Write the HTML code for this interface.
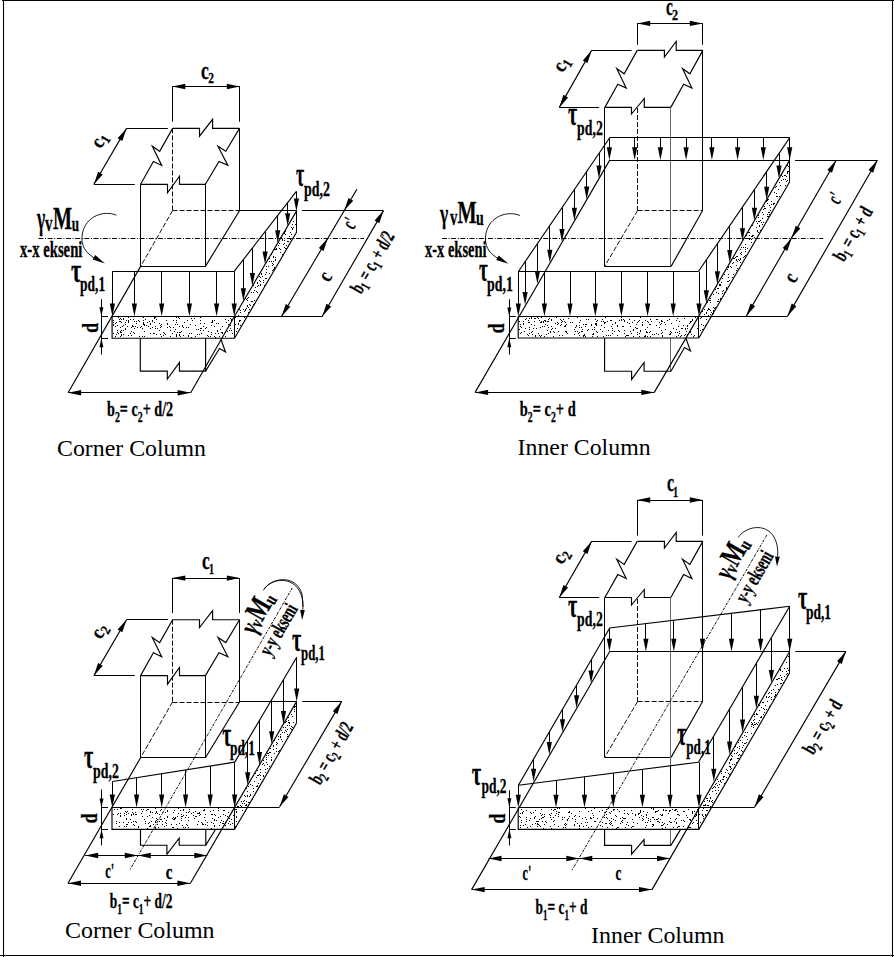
<!DOCTYPE html>
<html><head><meta charset="utf-8"><style>
html,body{margin:0;padding:0;background:#fff;width:894px;height:957px;overflow:hidden}
svg{display:block}
line,polyline{stroke:#000;stroke-width:1.15;fill:none}
.d{stroke-dasharray:5 2;stroke-width:0.95}
.dd{stroke-dasharray:5 1.6 1 1.6;stroke-width:1}
.dy{stroke-dasharray:2.6 1.1 0.8 1.1;stroke-width:1}
.t{stroke:#666;stroke-width:1}
.f{fill:#000;stroke:none}
.h{stroke-width:1.05}
text{font-family:"Liberation Serif",serif;fill:#000}
text[font-weight=bold]{stroke:#000;stroke-width:0.3}
</style></head><body>
<svg width="894" height="957" viewBox="0 0 894 957">
<line x1="2" y1="0.5" x2="894" y2="0.5" class="h"/>
<line x1="3.5" y1="0" x2="3.5" y2="957" class="h"/>
<line x1="892.5" y1="0" x2="892.5" y2="957" class="h"/>
<line x1="0" y1="955.5" x2="894" y2="955.5" class="h"/>
<line x1="172.5" y1="86.5" x2="172.5" y2="121.7" class="h"/>
<line x1="239.5" y1="86.5" x2="239.5" y2="121.7" class="h"/>
<line x1="172.3" y1="86.5" x2="239.8" y2="86.5" class="h"/>
<path class="f" d="M172.3 86.5L185.3 83.8L185.3 89.2Z"/>
<path class="f" d="M239.8 86.5L226.8 89.2L226.8 83.8Z"/>
<line x1="126.5" y1="128.5" x2="167.8" y2="128.5" class="h"/>
<line x1="126.5" y1="128.4" x2="93.9" y2="184.3"/>
<path class="f" d="M126.5 128.4L122.3 141L117.6 138.3Z"/>
<path class="f" d="M93.9 184.3L98.1 171.7L102.8 174.4Z"/>
<line x1="93.9" y1="184.5" x2="134.8" y2="184.5" class="h"/>
<polyline points="172.6,128.4 199.5,128.4 199.5,136.2 212.6,119.3 212.6,128.4 239.5,128.4"/>
<polyline points="172.6,128.4 159.7,151.3 152.3,146.2 161.7,165.4 153.4,161.5 140.6,184.3"/>
<polyline points="239.5,128.4 225.8,151.3 217.9,146.2 227.9,165.4 219,161.5 205.4,184.3"/>
<polyline points="140.6,184.3 167.5,184.3 167.5,192.8 179.5,176.2 179.5,184.3 205.5,184.3"/>
<line x1="140.5" y1="184.3" x2="140.5" y2="266.4" class="h"/>
<line x1="205.5" y1="184.3" x2="205.5" y2="266.4" class="h"/>
<line x1="239.5" y1="128.4" x2="239.5" y2="210.7" class="h"/>
<line x1="172.5" y1="128.4" x2="172.5" y2="210.7" class="d"/>
<line x1="140.6" y1="266.5" x2="205.4" y2="266.5" class="h"/>
<line x1="172.5" y1="210.5" x2="239.5" y2="210.5" class="d"/>
<line x1="239.5" y1="210.7" x2="205.4" y2="266.4"/>
<line x1="172.5" y1="210.7" x2="140.6" y2="266.4" class="d"/>
<line x1="68.1" y1="392.8" x2="140.6" y2="266.4"/>
<line x1="239.5" y1="210.5" x2="296.4" y2="210.5" class="h"/>
<line x1="302" y1="210.5" x2="383.5" y2="210.5" class="h"/>
<line x1="112.4" y1="271.5" x2="234.2" y2="271.5" class="h"/>
<line x1="234.2" y1="271.4" x2="296.4" y2="191.4"/>
<line x1="112.5" y1="271.4" x2="112.5" y2="310.3" class="h"/>
<path class="f" d="M112.4 316.3L109.8 303.5L115 303.5Z"/>
<line x1="134.5" y1="271.4" x2="134.5" y2="310.3" class="h"/>
<path class="f" d="M134.4 316.3L131.8 303.5L137 303.5Z"/>
<line x1="161.5" y1="271.4" x2="161.5" y2="310.3" class="h"/>
<path class="f" d="M161.7 316.3L159.1 303.5L164.3 303.5Z"/>
<line x1="189.5" y1="271.4" x2="189.5" y2="310.3" class="h"/>
<path class="f" d="M189.4 316.3L186.8 303.5L192 303.5Z"/>
<line x1="216.5" y1="271.4" x2="216.5" y2="310.3" class="h"/>
<path class="f" d="M216.6 316.3L214 303.5L219.2 303.5Z"/>
<line x1="234.5" y1="271.4" x2="234.5" y2="310.3" class="h"/>
<path class="f" d="M234.2 316.3L231.6 303.5L236.8 303.5Z"/>
<line x1="243.5" y1="259.6" x2="243.5" y2="295.1" class="h"/>
<path class="f" d="M243.4 301.1L240.8 288.3L246 288.3Z"/>
<line x1="252.5" y1="248" x2="252.5" y2="279.8" class="h"/>
<path class="f" d="M252.4 285.8L249.8 273L255 273Z"/>
<line x1="265.5" y1="231.7" x2="265.5" y2="258.3" class="h"/>
<path class="f" d="M265.1 264.3L262.5 251.5L267.7 251.5Z"/>
<line x1="277.5" y1="215.5" x2="277.5" y2="237" class="h"/>
<path class="f" d="M277.7 243L275.1 230.2L280.3 230.2Z"/>
<line x1="287.5" y1="202.6" x2="287.5" y2="220" class="h"/>
<path class="f" d="M287.7 226L285.1 213.2L290.3 213.2Z"/>
<line x1="296.5" y1="191.4" x2="296.5" y2="205.3" class="h"/>
<path class="f" d="M296.4 211.3L293.8 198.5L299 198.5Z"/>
<polyline points="112.1,316.3 112.1,338.2 234.5,338.2"/>
<line x1="112.1" y1="316.5" x2="322.8" y2="316.5" class="h"/>
<line x1="234.5" y1="316.3" x2="234.5" y2="338.2" class="h"/>
<line x1="234.5" y1="316.3" x2="296.8" y2="210.6"/>
<line x1="234.5" y1="338.2" x2="296.8" y2="231.8"/>
<line x1="296.5" y1="210.6" x2="296.5" y2="231.8" class="h"/>
<line x1="190.7" y1="392.8" x2="234.5" y2="316.3"/>
<polyline points="205.6,371.1 219.5,348.5 225.5,352 221,339.5"/>
<line x1="101.5" y1="299.3" x2="101.5" y2="354.5" class="h"/>
<path class="f" d="M101.4 316.3L99.4 307.3L103.4 307.3Z"/>
<path class="f" d="M101.4 338.2L103.4 347.2L99.4 347.2Z"/>
<line x1="101.4" y1="316.5" x2="108" y2="316.5" class="h"/>
<line x1="101.4" y1="338.5" x2="108" y2="338.5" class="h"/>
<polyline points="140.3,338.2 140.3,371.1 167.3,371.1 167.3,379 179.4,362.6 179.4,371.1 205.6,371.1 205.6,338.2"/>
<line x1="68.1" y1="392.5" x2="190.7" y2="392.5" class="h"/>
<path class="f" d="M68.1 392.8L81.1 390.1L81.1 395.5Z"/>
<path class="f" d="M190.7 392.8L177.7 395.5L177.7 390.1Z"/>
<line x1="356.9" y1="189.3" x2="281.5" y2="316.5"/>
<path class="f" d="M344.2 210.6L348.5 198.1L353.2 200.8Z"/>
<path class="f" d="M327.8 238.3L323.5 250.9L318.8 248.1Z"/>
<path class="f" d="M281.5 316.5L285.8 303.9L290.4 306.7Z"/>
<line x1="383.5" y1="210.6" x2="322.3" y2="316.3"/>
<path class="f" d="M383.5 210.6L379.3 223.2L374.6 220.5Z"/>
<path class="f" d="M322.3 316.3L326.5 303.7L331.2 306.4Z"/>
<line x1="38.4" y1="238.5" x2="364" y2="238.5" class="dd"/>
<path d="M116.4 215.2C104 210 86 216 82.5 233C80 246 86 253 95 258.5" style="stroke:#000;stroke-width:0.9;fill:none"/>
<path class="f" d="M104.9 263.4L92.7 259.6L95.2 255.1Z"/>
<line x1="172.5" y1="578.1" x2="172.5" y2="613" class="h"/>
<line x1="239.5" y1="578.1" x2="239.5" y2="613" class="h"/>
<line x1="172.3" y1="578.5" x2="239.8" y2="578.5" class="h"/>
<path class="f" d="M172.3 578.1L185.3 575.4L185.3 580.8Z"/>
<path class="f" d="M239.8 578.1L226.8 580.8L226.8 575.4Z"/>
<line x1="126.5" y1="619.5" x2="167.8" y2="619.5" class="h"/>
<line x1="126.5" y1="619.7" x2="93.9" y2="675.6"/>
<path class="f" d="M126.5 619.7L122.3 632.3L117.6 629.6Z"/>
<path class="f" d="M93.9 675.6L98.1 663L102.8 665.7Z"/>
<line x1="93.9" y1="675.5" x2="134.8" y2="675.5" class="h"/>
<polyline points="172.6,619.7 199.5,619.7 199.5,627.5 212.6,610.6 212.6,619.7 239.5,619.7"/>
<polyline points="172.6,619.7 159.7,642.6 152.3,637.5 161.7,656.7 153.4,652.8 140.6,675.6"/>
<polyline points="239.5,619.7 225.8,642.6 217.9,637.5 227.9,656.7 219,652.8 205.4,675.6"/>
<polyline points="140.6,675.6 167.5,675.6 167.5,684.1 179.5,667.5 179.5,675.6 205.5,675.6"/>
<line x1="140.5" y1="675.6" x2="140.5" y2="757.7" class="h"/>
<line x1="205.5" y1="675.6" x2="205.5" y2="757.7" class="h"/>
<line x1="239.5" y1="619.7" x2="239.5" y2="702" class="h"/>
<line x1="172.5" y1="619.7" x2="172.5" y2="702" class="d"/>
<line x1="140.6" y1="757.5" x2="205.4" y2="757.5" class="h"/>
<line x1="172.5" y1="702.5" x2="239.5" y2="702.5" class="d"/>
<line x1="239.5" y1="702" x2="205.4" y2="757.7"/>
<line x1="172.5" y1="702" x2="140.6" y2="757.7" class="d"/>
<line x1="68" y1="883.3" x2="140.6" y2="757.7"/>
<line x1="239.5" y1="701.5" x2="296.7" y2="701.5" class="h"/>
<line x1="302.2" y1="701.5" x2="341.7" y2="701.5" class="h"/>
<line x1="112.5" y1="781.5" x2="234.8" y2="762.1"/>
<line x1="234.8" y1="762.1" x2="296.7" y2="657.3"/>
<line x1="112.5" y1="781.5" x2="112.5" y2="801.4" class="h"/>
<path class="f" d="M112.3 807.4L109.7 794.6L114.9 794.6Z"/>
<line x1="136.5" y1="777.7" x2="136.5" y2="801.4" class="h"/>
<path class="f" d="M136.6 807.4L134 794.6L139.2 794.6Z"/>
<line x1="161.5" y1="773.7" x2="161.5" y2="801.4" class="h"/>
<path class="f" d="M161.7 807.4L159.1 794.6L164.3 794.6Z"/>
<line x1="185.5" y1="769.9" x2="185.5" y2="801.4" class="h"/>
<path class="f" d="M185.6 807.4L183 794.6L188.2 794.6Z"/>
<line x1="210.5" y1="766" x2="210.5" y2="801.4" class="h"/>
<path class="f" d="M210.2 807.4L207.6 794.6L212.8 794.6Z"/>
<line x1="234.5" y1="762.1" x2="234.5" y2="801.4" class="h"/>
<path class="f" d="M234.6 807.4L232 794.6L237.2 794.6Z"/>
<line x1="247.5" y1="740.3" x2="247.5" y2="779" class="h"/>
<path class="f" d="M247.7 785L245.1 772.2L250.3 772.2Z"/>
<line x1="259.5" y1="720.3" x2="259.5" y2="758.9" class="h"/>
<path class="f" d="M259.5 764.9L256.9 752.1L262.1 752.1Z"/>
<line x1="271.5" y1="699.6" x2="271.5" y2="738.1" class="h"/>
<path class="f" d="M271.7 744.1L269.1 731.3L274.3 731.3Z"/>
<line x1="283.5" y1="679.6" x2="283.5" y2="717.9" class="h"/>
<path class="f" d="M283.5 723.9L280.9 711.1L286.1 711.1Z"/>
<line x1="296.5" y1="657.3" x2="296.5" y2="695.4" class="h"/>
<path class="f" d="M296.7 701.4L294.1 688.6L299.3 688.6Z"/>
<polyline points="112,807.4 112,829.3 234.6,829.3"/>
<line x1="112" y1="807.5" x2="279.6" y2="807.5" class="h"/>
<line x1="234.5" y1="807.4" x2="234.5" y2="829.3" class="h"/>
<line x1="234.6" y1="807.4" x2="296.7" y2="701.4"/>
<line x1="234.6" y1="829.3" x2="296.7" y2="722.7"/>
<line x1="296.5" y1="701.4" x2="296.5" y2="722.7" class="h"/>
<line x1="190.4" y1="883.3" x2="234.6" y2="807.4"/>
<line x1="205.6" y1="845.4" x2="215.7" y2="829.3"/>
<line x1="101.5" y1="789.5" x2="101.5" y2="845.4" class="h"/>
<path class="f" d="M101.5 807.4L99.5 798.4L103.5 798.4Z"/>
<path class="f" d="M101.5 829.3L103.5 838.3L99.5 838.3Z"/>
<line x1="101.5" y1="807.5" x2="108" y2="807.5" class="h"/>
<line x1="101.5" y1="829.5" x2="108" y2="829.5" class="h"/>
<polyline points="140.5,829.3 140.5,845.2 166.9,845.2 166.9,854.4 179.2,838.2 179.2,845.2 205.8,845.2 205.8,829.3"/>
<line x1="85.2" y1="855.5" x2="207.3" y2="855.5" class="h"/>
<path class="f" d="M85.2 855.5L98.2 852.8L98.2 858.2Z"/>
<path class="f" d="M137.8 855.5L124.8 858.2L124.8 852.8Z"/>
<path class="f" d="M137.8 855.5L150.8 852.8L150.8 858.2Z"/>
<path class="f" d="M207.3 855.5L194.3 858.2L194.3 852.8Z"/>
<line x1="68" y1="883.5" x2="190.4" y2="883.5" class="h"/>
<path class="f" d="M68 883.3L81 880.6L81 886Z"/>
<path class="f" d="M190.4 883.3L177.4 886L177.4 880.6Z"/>
<line x1="341.7" y1="701.4" x2="279.6" y2="806.8"/>
<path class="f" d="M341.7 701.4L337.4 714L332.8 711.2Z"/>
<path class="f" d="M279.6 806.8L283.9 794.2L288.5 797Z"/>
<line x1="292.2" y1="588" x2="129.8" y2="870" class="dy"/>
<path d="M264.2 589.1C272 578 292 576 300 592C304 600 303 606 302.5 612" style="stroke:#000;stroke-width:0.9;fill:none"/>
<path class="f" d="M302.2 620L300.1 609.9L304.8 610.1Z"/>
<line x1="637.5" y1="23.4" x2="637.5" y2="44.7" class="h"/>
<line x1="702.5" y1="23.4" x2="702.5" y2="44.7" class="h"/>
<line x1="637.2" y1="23.5" x2="702.8" y2="23.5" class="h"/>
<path class="f" d="M637.2 23.4L650.2 20.7L650.2 26.1Z"/>
<path class="f" d="M702.8 23.4L689.8 26.1L689.8 20.7Z"/>
<line x1="591.6" y1="50.5" x2="631.5" y2="50.5" class="h"/>
<line x1="591.6" y1="50.4" x2="559.3" y2="107.4"/>
<path class="f" d="M591.6 50.4L587.5 63L582.8 60.4Z"/>
<path class="f" d="M559.3 107.4L563.4 94.8L568.1 97.4Z"/>
<line x1="559.3" y1="107.5" x2="599.2" y2="107.5" class="h"/>
<polyline points="637.2,50.4 664.4,50.4 664.4,57 676.2,41.5 676.2,50.4 702.8,50.4"/>
<polyline points="637.2,50.4 624.2,73.8 616.7,68.6 626.2,88.1 617.8,84.2 604.9,107.4"/>
<polyline points="702.8,50.4 689.9,73.8 682.5,68.6 691.9,88.1 683.6,84.2 670.8,107.4"/>
<polyline points="604.7,107.4 631.5,107.4 631.5,114 644.3,98.5 644.3,107.4 671,107.4"/>
<line x1="604.5" y1="107.4" x2="604.5" y2="266.4" class="h"/>
<line x1="702.5" y1="50.4" x2="702.5" y2="210.5" class="h"/>
<line x1="637.5" y1="108" x2="637.5" y2="210.5" class="d"/>
<line x1="604.6" y1="266.5" x2="671.1" y2="266.5" class="h"/>
<line x1="637.6" y1="210.5" x2="702.6" y2="210.5" class="d"/>
<line x1="702.6" y1="210.5" x2="671.1" y2="266.4"/>
<line x1="637.6" y1="210.5" x2="604.6" y2="266.4" class="d"/>
<line x1="670.5" y1="107.4" x2="670.5" y2="266.4" class="t"/>
<line x1="670.5" y1="338" x2="670.5" y2="371.2" class="t"/>
<line x1="609.4" y1="137.5" x2="789.7" y2="137.5" class="h"/>
<line x1="518.4" y1="271.5" x2="698.4" y2="271.5" class="h"/>
<line x1="518.4" y1="271.5" x2="609.7" y2="137.8"/>
<line x1="698.4" y1="271.5" x2="789.7" y2="137.8"/>
<line x1="609.5" y1="137.8" x2="609.5" y2="154.1" class="h"/>
<path class="f" d="M609.4 160.1L606.8 147.3L612 147.3Z"/>
<line x1="634.5" y1="137.8" x2="634.5" y2="154.1" class="h"/>
<path class="f" d="M634.7 160.1L632.1 147.3L637.3 147.3Z"/>
<line x1="660.5" y1="137.8" x2="660.5" y2="154.1" class="h"/>
<path class="f" d="M660.4 160.1L657.8 147.3L663 147.3Z"/>
<line x1="686.5" y1="137.8" x2="686.5" y2="154.1" class="h"/>
<path class="f" d="M686.1 160.1L683.5 147.3L688.7 147.3Z"/>
<line x1="711.5" y1="137.8" x2="711.5" y2="154.1" class="h"/>
<path class="f" d="M711.9 160.1L709.3 147.3L714.5 147.3Z"/>
<line x1="737.5" y1="137.8" x2="737.5" y2="154.1" class="h"/>
<path class="f" d="M737.6 160.1L735 147.3L740.2 147.3Z"/>
<line x1="763.5" y1="137.8" x2="763.5" y2="154.1" class="h"/>
<path class="f" d="M763.3 160.1L760.7 147.3L765.9 147.3Z"/>
<line x1="789.5" y1="137.8" x2="789.5" y2="154.1" class="h"/>
<path class="f" d="M789.7 160.1L787.1 147.3L792.3 147.3Z"/>
<line x1="518.5" y1="271.5" x2="518.5" y2="310.3" class="h"/>
<path class="f" d="M518.3 316.3L515.7 303.5L520.9 303.5Z"/>
<line x1="544.5" y1="271.5" x2="544.5" y2="310.3" class="h"/>
<path class="f" d="M544.4 316.3L541.8 303.5L547 303.5Z"/>
<line x1="570.5" y1="271.5" x2="570.5" y2="310.3" class="h"/>
<path class="f" d="M570 316.3L567.4 303.5L572.6 303.5Z"/>
<line x1="595.5" y1="271.5" x2="595.5" y2="310.3" class="h"/>
<path class="f" d="M595.3 316.3L592.7 303.5L597.9 303.5Z"/>
<line x1="621.5" y1="271.5" x2="621.5" y2="310.3" class="h"/>
<path class="f" d="M621.4 316.3L618.8 303.5L624 303.5Z"/>
<line x1="647.5" y1="271.5" x2="647.5" y2="310.3" class="h"/>
<path class="f" d="M647.6 316.3L645 303.5L650.2 303.5Z"/>
<line x1="673.5" y1="271.5" x2="673.5" y2="310.3" class="h"/>
<path class="f" d="M673.2 316.3L670.6 303.5L675.8 303.5Z"/>
<line x1="699.5" y1="271.5" x2="699.5" y2="310.3" class="h"/>
<path class="f" d="M699 316.3L696.4 303.5L701.6 303.5Z"/>
<line x1="525.5" y1="261.7" x2="525.5" y2="298.8" class="h"/>
<path class="f" d="M525.1 304.8L522.5 292L527.7 292Z"/>
<line x1="537.5" y1="243.7" x2="537.5" y2="277.8" class="h"/>
<path class="f" d="M537.4 283.8L534.8 271L540 271Z"/>
<line x1="549.5" y1="225.5" x2="549.5" y2="256.6" class="h"/>
<path class="f" d="M549.8 262.6L547.2 249.8L552.4 249.8Z"/>
<line x1="562.5" y1="207.7" x2="562.5" y2="235.7" class="h"/>
<path class="f" d="M562 241.7L559.4 228.9L564.6 228.9Z"/>
<line x1="574.5" y1="189.5" x2="574.5" y2="214.5" class="h"/>
<path class="f" d="M574.4 220.5L571.8 207.7L577 207.7Z"/>
<line x1="586.5" y1="171.5" x2="586.5" y2="193.4" class="h"/>
<path class="f" d="M586.7 199.4L584.1 186.6L589.3 186.6Z"/>
<line x1="599.5" y1="153.5" x2="599.5" y2="172.4" class="h"/>
<path class="f" d="M599 178.4L596.4 165.6L601.6 165.6Z"/>
<line x1="706.5" y1="259.9" x2="706.5" y2="297.1" class="h"/>
<path class="f" d="M706.3 303.1L703.7 290.3L708.9 290.3Z"/>
<line x1="717.5" y1="243.7" x2="717.5" y2="278.1" class="h"/>
<path class="f" d="M717.4 284.1L714.8 271.3L720 271.3Z"/>
<line x1="729.5" y1="225.5" x2="729.5" y2="256.8" class="h"/>
<path class="f" d="M729.8 262.8L727.2 250L732.4 250Z"/>
<line x1="742.5" y1="206.9" x2="742.5" y2="235" class="h"/>
<path class="f" d="M742.5 241L739.9 228.2L745.1 228.2Z"/>
<line x1="754.5" y1="189.5" x2="754.5" y2="214.6" class="h"/>
<path class="f" d="M754.4 220.6L751.8 207.8L757 207.8Z"/>
<line x1="766.5" y1="171.5" x2="766.5" y2="193.5" class="h"/>
<path class="f" d="M766.7 199.5L764.1 186.7L769.3 186.7Z"/>
<line x1="779.5" y1="153.5" x2="779.5" y2="172.4" class="h"/>
<path class="f" d="M779 178.4L776.4 165.6L781.6 165.6Z"/>
<line x1="609.4" y1="160.5" x2="789.7" y2="160.5" class="h"/>
<line x1="795" y1="160.5" x2="877.3" y2="160.5" class="h"/>
<polyline points="518.2,316.3 518.2,338 698.8,338"/>
<line x1="518.2" y1="316.5" x2="787.6" y2="316.5" class="h"/>
<line x1="698.5" y1="316.3" x2="698.5" y2="338" class="h"/>
<line x1="698.8" y1="338" x2="789.7" y2="181.7"/>
<line x1="789.5" y1="137.8" x2="789.5" y2="181.7" class="h"/>
<line x1="475.1" y1="392.4" x2="609.7" y2="160.1"/>
<line x1="654.3" y1="392.4" x2="789.7" y2="160.1"/>
<polyline points="670.9,371.2 684.5,347.5 690.5,351 686,338.5"/>
<line x1="509.5" y1="299.4" x2="509.5" y2="354.6" class="h"/>
<path class="f" d="M509.3 316.4L507.3 307.4L511.3 307.4Z"/>
<path class="f" d="M509.3 338.3L511.3 347.3L507.3 347.3Z"/>
<line x1="509.3" y1="316.5" x2="515.8" y2="316.5" class="h"/>
<line x1="509.3" y1="338.5" x2="515.8" y2="338.5" class="h"/>
<polyline points="604.6,338 604.6,371.2 631.6,371.2 631.6,379.4 644.1,362.5 644.1,371.2 671,371.2"/>
<line x1="475.1" y1="392.5" x2="654.3" y2="392.5" class="h"/>
<path class="f" d="M475.1 392.4L488.1 389.7L488.1 395.1Z"/>
<path class="f" d="M654.3 392.4L641.3 395.1L641.3 389.7Z"/>
<line x1="836.2" y1="160.2" x2="746.3" y2="316.1"/>
<path class="f" d="M836.2 160.2L832 172.8L827.3 170.1Z"/>
<path class="f" d="M791.6 238.3L795.7 225.7L800.4 228.3Z"/>
<path class="f" d="M791.6 238.3L787.3 250.9L782.7 248.1Z"/>
<path class="f" d="M746.3 316.1L750.5 303.5L755.1 306.2Z"/>
<line x1="877.3" y1="160.2" x2="787.6" y2="316.1"/>
<path class="f" d="M877.3 160.2L873.2 172.8L868.5 170.1Z"/>
<path class="f" d="M787.6 316.1L791.7 303.5L796.4 306.2Z"/>
<line x1="442" y1="238.5" x2="823.3" y2="238.5" class="dd"/>
<path d="M519.9 215.5C507.5 210.3 489.5 216.3 486 233.3C483.5 246.3 489.5 253.3 498.5 258.8" style="stroke:#000;stroke-width:0.9;fill:none"/>
<path class="f" d="M508.4 263.7L496.2 259.9L498.7 255.4Z"/>
<line x1="637.5" y1="500" x2="637.5" y2="535.6" class="h"/>
<line x1="702.5" y1="500" x2="702.5" y2="535.6" class="h"/>
<line x1="637.2" y1="500.5" x2="702.8" y2="500.5" class="h"/>
<path class="f" d="M637.2 500L650.2 497.3L650.2 502.7Z"/>
<path class="f" d="M702.8 500L689.8 502.7L689.8 497.3Z"/>
<line x1="591.6" y1="541.5" x2="631.5" y2="541.5" class="h"/>
<line x1="591.6" y1="541.4" x2="559.3" y2="597.5"/>
<path class="f" d="M591.6 541.4L587.5 554L582.8 551.3Z"/>
<path class="f" d="M559.3 597.5L563.4 584.9L568.1 587.6Z"/>
<line x1="559.3" y1="597.5" x2="599.2" y2="597.5" class="h"/>
<polyline points="637.2,541.4 664.4,541.4 664.4,548 676.2,532.5 676.2,541.4 702.8,541.4"/>
<polyline points="637.2,541.4 624.2,564.4 616.7,559.3 626.2,578.5 617.8,574.6 604.9,597.5"/>
<polyline points="702.8,541.4 689.9,564.4 682.5,559.3 691.9,578.5 683.6,574.6 670.8,597.5"/>
<polyline points="604.7,597.5 631.5,597.5 631.5,605 644.3,589.5 644.3,597.5 671,597.5"/>
<line x1="604.5" y1="597.5" x2="604.5" y2="757.4" class="h"/>
<line x1="702.5" y1="541.4" x2="702.5" y2="701.5" class="h"/>
<line x1="637.5" y1="599" x2="637.5" y2="701.5" class="d"/>
<line x1="604.6" y1="757.5" x2="671.1" y2="757.5" class="h"/>
<line x1="637.6" y1="701.5" x2="702.6" y2="701.5" class="d"/>
<line x1="702.6" y1="701.5" x2="671.1" y2="757.4"/>
<line x1="637.6" y1="701.5" x2="604.6" y2="757.4" class="d"/>
<line x1="670.5" y1="597.5" x2="670.5" y2="807.5" class="t"/>
<line x1="670.5" y1="829.4" x2="670.5" y2="845.4" class="t"/>
<line x1="609.4" y1="628" x2="789.7" y2="606.3"/>
<line x1="518.4" y1="785.2" x2="698.4" y2="762.2"/>
<line x1="518.4" y1="785.2" x2="609.7" y2="628"/>
<line x1="698.4" y1="762.2" x2="789.7" y2="606.3"/>
<line x1="609.5" y1="628" x2="609.5" y2="645.5" class="h"/>
<path class="f" d="M609.4 651.5L606.8 638.7L612 638.7Z"/>
<line x1="645.5" y1="623.6" x2="645.5" y2="645.5" class="h"/>
<path class="f" d="M645.9 651.5L643.3 638.7L648.5 638.7Z"/>
<line x1="673.5" y1="620.2" x2="673.5" y2="645.5" class="h"/>
<path class="f" d="M673.8 651.5L671.2 638.7L676.4 638.7Z"/>
<line x1="702.5" y1="616.8" x2="702.5" y2="645.5" class="h"/>
<path class="f" d="M702.5 651.5L699.9 638.7L705.1 638.7Z"/>
<line x1="731.5" y1="613.3" x2="731.5" y2="645.5" class="h"/>
<path class="f" d="M731.5 651.5L728.9 638.7L734.1 638.7Z"/>
<line x1="760.5" y1="609.8" x2="760.5" y2="645.5" class="h"/>
<path class="f" d="M760.6 651.5L758 638.7L763.2 638.7Z"/>
<line x1="789.5" y1="606.3" x2="789.5" y2="645.5" class="h"/>
<path class="f" d="M789.7 651.5L787.1 638.7L792.3 638.7Z"/>
<line x1="518.5" y1="785.2" x2="518.5" y2="801.5" class="h"/>
<path class="f" d="M518.3 807.5L515.7 794.7L520.9 794.7Z"/>
<line x1="556.5" y1="780.4" x2="556.5" y2="801.5" class="h"/>
<path class="f" d="M556 807.5L553.4 794.7L558.6 794.7Z"/>
<line x1="584.5" y1="776.8" x2="584.5" y2="801.5" class="h"/>
<path class="f" d="M584.5 807.5L581.9 794.7L587.1 794.7Z"/>
<line x1="613.5" y1="773.1" x2="613.5" y2="801.5" class="h"/>
<path class="f" d="M613.3 807.5L610.7 794.7L615.9 794.7Z"/>
<line x1="642.5" y1="769.4" x2="642.5" y2="801.5" class="h"/>
<path class="f" d="M642.4 807.5L639.8 794.7L645 794.7Z"/>
<line x1="670.5" y1="765.8" x2="670.5" y2="801.5" class="h"/>
<path class="f" d="M670 807.5L667.4 794.7L672.6 794.7Z"/>
<line x1="699.5" y1="762.1" x2="699.5" y2="801.5" class="h"/>
<path class="f" d="M699 807.5L696.4 794.7L701.6 794.7Z"/>
<line x1="533.5" y1="759" x2="533.5" y2="775.5" class="h"/>
<path class="f" d="M533.6 781.5L531 768.7L536.2 768.7Z"/>
<line x1="549.5" y1="732" x2="549.5" y2="748.7" class="h"/>
<path class="f" d="M549.3 754.7L546.7 741.9L551.9 741.9Z"/>
<line x1="562.5" y1="709.3" x2="562.5" y2="726.1" class="h"/>
<path class="f" d="M562.5 732.1L559.9 719.3L565.1 719.3Z"/>
<line x1="576.5" y1="685" x2="576.5" y2="702.1" class="h"/>
<path class="f" d="M576.6 708.1L574 695.3L579.2 695.3Z"/>
<line x1="591.5" y1="660" x2="591.5" y2="677.3" class="h"/>
<path class="f" d="M591.1 683.3L588.5 670.5L593.7 670.5Z"/>
<line x1="713.5" y1="735.9" x2="713.5" y2="775.5" class="h"/>
<path class="f" d="M713.8 781.5L711.2 768.7L716.4 768.7Z"/>
<line x1="729.5" y1="708.9" x2="729.5" y2="748.4" class="h"/>
<path class="f" d="M729.6 754.4L727 741.6L732.2 741.6Z"/>
<line x1="742.5" y1="686.7" x2="742.5" y2="726.2" class="h"/>
<path class="f" d="M742.6 732.2L740 719.4L745.2 719.4Z"/>
<line x1="756.5" y1="663.2" x2="756.5" y2="702.5" class="h"/>
<path class="f" d="M756.4 708.5L753.8 695.7L759 695.7Z"/>
<line x1="771.5" y1="637.5" x2="771.5" y2="676.8" class="h"/>
<path class="f" d="M771.4 682.8L768.8 670L774 670Z"/>
<line x1="609.4" y1="651.5" x2="789.7" y2="651.5" class="h"/>
<line x1="795.3" y1="651.5" x2="845.9" y2="651.5" class="h"/>
<polyline points="518.2,807.5 518.2,829.4 698.8,829.4"/>
<line x1="518.2" y1="807.5" x2="754.7" y2="807.5" class="h"/>
<line x1="698.5" y1="807.5" x2="698.5" y2="829.4" class="h"/>
<line x1="698.8" y1="829.4" x2="789.7" y2="672.8"/>
<line x1="789.5" y1="606.3" x2="789.5" y2="672.8" class="h"/>
<line x1="471.6" y1="889.6" x2="609.7" y2="651.5"/>
<line x1="652" y1="889.6" x2="789.7" y2="651.5"/>
<line x1="670.9" y1="845.4" x2="680.6" y2="829.4"/>
<line x1="509.5" y1="790.2" x2="509.5" y2="845.4" class="h"/>
<path class="f" d="M509.4 807.3L507.4 798.3L511.4 798.3Z"/>
<path class="f" d="M509.4 829.3L511.4 838.3L507.4 838.3Z"/>
<line x1="509.4" y1="807.5" x2="515.8" y2="807.5" class="h"/>
<line x1="509.4" y1="829.5" x2="515.8" y2="829.5" class="h"/>
<polyline points="604.6,829.4 604.6,845.4 631.6,845.4 631.6,854.2 644.1,839.6 644.1,845.4 671,845.4"/>
<line x1="488.5" y1="858.5" x2="670" y2="858.5" class="h"/>
<path class="f" d="M488.5 858.5L501.5 855.8L501.5 861.2Z"/>
<path class="f" d="M579.3 858.5L566.3 861.2L566.3 855.8Z"/>
<path class="f" d="M579.3 858.5L592.3 855.8L592.3 861.2Z"/>
<path class="f" d="M670 858.5L657 861.2L657 855.8Z"/>
<line x1="471.6" y1="889.5" x2="652" y2="889.5" class="h"/>
<path class="f" d="M471.6 889.6L484.6 886.9L484.6 892.3Z"/>
<path class="f" d="M652 889.6L639 892.3L639 886.9Z"/>
<line x1="845.9" y1="651.4" x2="754.7" y2="806.9"/>
<path class="f" d="M845.9 651.4L841.7 664L837 661.2Z"/>
<path class="f" d="M754.7 806.9L758.9 794.3L763.6 797.1Z"/>
<line x1="766.8" y1="535.1" x2="572" y2="870.2" class="dy"/>
<path d="M738.3 537.3C745 527 765 522 774 537C778 544 778 552 777.5 558" style="stroke:#000;stroke-width:0.9;fill:none"/>
<path class="f" d="M777 566.6L775 556.5L779.8 556.7Z"/>
<path d="M263.3 590.3C271 577 296 574 302 594L303 607" style="stroke:#000;stroke-width:0.9;fill:none"/>
<path class="f" d="M152 320h1v1h-1zM191 318h1v1h-1zM177 324h1v1h-1zM120 327h1v1h-1zM117 325h1v1h-1zM121 319h1v1h-1zM164 333h1v1h-1zM128 321h1v1h-1zM188 336h1v1h-1zM182 325h1v1h-1zM230 318h1v1h-1zM216 323h1v1h-1zM130 319h1v1h-1zM150 333h1v1h-1zM134 328h1v1h-1zM190 324h1v1h-1zM179 318h1v1h-1zM120 321h1v1h-1zM195 325h1v1h-1zM150 328h1v1h-1zM167 323h1v1h-1zM208 331h1v1h-1zM142 328h1v1h-1zM176 334h1v1h-1zM200 323h1v1h-1zM231 319h1v1h-1zM163 332h1v1h-1zM131 327h1v1h-1zM117 330h1v1h-1zM205 328h1v1h-1zM218 323h1v1h-1zM196 329h1v1h-1zM182 326h1v1h-1zM214 336h1v1h-1zM170 330h1v1h-1zM120 331h1v1h-1zM191 337h1v1h-1zM212 322h1v1h-1zM159 330h1v1h-1zM115 326h1v1h-1zM133 319h1v1h-1zM120 332h1v1h-1zM128 322h1v1h-1zM160 334h1v1h-1zM122 326h1v1h-1zM179 334h1v1h-1zM211 334h1v1h-1zM146 325h1v1h-1zM156 334h1v1h-1zM228 320h1v1h-1zM134 321h1v1h-1zM141 326h1v1h-1zM184 322h1v1h-1zM113 325h1v1h-1zM157 328h1v1h-1zM227 331h1v1h-1zM175 329h1v1h-1zM194 318h1v1h-1zM221 332h1v1h-1zM218 333h1v1h-1zM160 325h1v1h-1zM125 329h1v1h-1zM120 318h1v1h-1zM138 320h1v1h-1zM154 318h1v1h-1zM113 320h1v1h-1zM125 324h1v1h-1zM116 334h1v1h-1zM187 320h1v1h-1zM143 324h1v1h-1zM156 319h1v1h-1zM215 337h1v1h-1zM169 326h1v1h-1zM123 319h1v1h-1zM154 322h1v1h-1zM212 320h1v1h-1zM115 336h1v1h-1zM176 320h1v1h-1zM178 317h1v1h-1zM176 336h1v1h-1zM217 331h1v1h-1zM144 324h1v1h-1zM133 332h1v1h-1zM177 332h1v1h-1zM152 321h1v1h-1zM210 336h1v1h-1zM215 333h1v1h-1zM211 332h1v1h-1zM140 327h1v1h-1zM155 317h1v1h-1zM116 322h1v1h-1zM144 331h1v1h-1zM228 326h1v1h-1zM225 336h1v1h-1zM228 324h1v1h-1zM139 321h1v1h-1zM136 321h1v1h-1zM188 335h1v1h-1zM214 326h1v1h-1zM191 333h1v1h-1zM123 330h1v1h-1zM222 332h1v1h-1zM203 326h1v1h-1zM134 333h1v1h-1zM153 333h1v1h-1zM230 325h1v1h-1zM161 336h1v1h-1zM200 320h1v1h-1zM128 320h1v1h-1zM222 333h1v1h-1zM130 333h1v1h-1zM231 330h1v1h-1zM155 328h1v1h-1zM128 317h1v1h-1zM229 330h1v1h-1zM176 335h1v1h-1zM165 334h1v1h-1zM212 321h1v1h-1zM143 323h1v1h-1zM142 328h1v1h-1zM144 325h1v1h-1zM128 335h1v1h-1zM155 326h1v1h-1zM183 335h1v1h-1zM163 335h1v1h-1zM173 327h1v1h-1zM176 317h1v1h-1zM166 320h1v1h-1zM113 333h1v1h-1zM133 326h1v1h-1zM200 328h1v1h-1zM152 327h1v1h-1zM179 332h1v1h-1zM125 328h1v1h-1zM143 322h1v1h-1zM206 327h1v1h-1zM180 332h1v1h-1zM222 326h1v1h-1zM186 327h1v1h-1zM174 331h1v1h-1zM167 327h1v1h-1zM170 336h1v1h-1zM197 334h1v1h-1zM226 322h1v1h-1zM180 336h1v1h-1zM214 320h1v1h-1zM127 326h1v1h-1zM121 322h1v1h-1zM121 330h1v1h-1zM207 335h1v1h-1zM131 331h1v1h-1zM192 320h1v1h-1zM219 336h1v1h-1zM139 336h1v1h-1zM161 326h1v1h-1zM232 333h1v1h-1zM132 325h1v1h-1zM175 324h1v1h-1zM136 323h1v1h-1zM200 317h1v1h-1zM179 326h1v1h-1zM115 323h1v1h-1zM188 327h1v1h-1zM120 336h1v1h-1zM208 336h1v1h-1zM125 322h1v1h-1zM117 332h1v1h-1zM145 319h1v1h-1zM163 335h1v1h-1zM211 322h1v1h-1zM131 335h1v1h-1zM181 331h1v1h-1zM123 318h1v1h-1zM195 325h1v1h-1zM121 335h1v1h-1zM189 333h1v1h-1zM123 334h1v1h-1zM121 334h1v1h-1zM167 324h1v1h-1zM179 335h1v1h-1zM145 319h1v1h-1zM176 322h1v1h-1zM126 320h1v1h-1zM119 321h1v1h-1zM150 323h1v1h-1zM204 323h1v1h-1zM173 320h1v1h-1zM154 317h1v1h-1zM143 317h1v1h-1zM201 328h1v1h-1zM135 326h1v1h-1zM225 319h1v1h-1zM211 325h1v1h-1zM172 333h1v1h-1zM160 327h1v1h-1zM195 336h1v1h-1zM154 333h1v1h-1zM198 329h1v1h-1zM161 324h1v1h-1zM119 319h1v1h-1zM121 332h1v1h-1zM143 320h1v1h-1zM123 334h1v1h-1zM217 330h1v1h-1zM147 322h1v1h-1zM148 326h1v1h-1zM132 326h1v1h-1zM144 336h1v1h-1zM230 328h1v1h-1zM142 336h1v1h-1zM150 324h1v1h-1zM113 324h1v1h-1zM170 327h1v1h-1zM137 327h1v1h-1zM113 322h1v1h-1zM123 325h1v1h-1zM118 317h1v1h-1zM149 321h1v1h-1zM183 327h1v1h-1zM203 330h1v1h-1zM199 334h1v1h-1zM159 323h1v1h-1zM231 320h1v1h-1zM200 330h1v1h-1zM118 333h1v1h-1zM220 329h1v1h-1zM201 333h1v1h-1zM241 316h1v1h-1zM265 278h1v1h-1zM279 243h1v1h-1zM280 249h1v1h-1zM276 248h1v1h-1zM266 269h1v1h-1zM289 236h1v1h-1zM292 228h1v1h-1zM241 316h1v1h-1zM291 227h1v1h-1zM253 304h1v1h-1zM275 249h1v1h-1zM269 261h1v1h-1zM260 277h1v1h-1zM293 227h1v1h-1zM287 238h1v1h-1zM263 280h1v1h-1zM274 249h1v1h-1zM284 240h1v1h-1zM248 307h1v1h-1zM275 259h1v1h-1zM293 227h1v1h-1zM251 301h1v1h-1zM261 273h1v1h-1zM291 234h1v1h-1zM272 252h1v1h-1zM247 306h1v1h-1zM286 248h1v1h-1zM269 258h1v1h-1zM295 224h1v1h-1zM251 309h1v1h-1zM292 224h1v1h-1zM259 280h1v1h-1zM245 298h1v1h-1zM254 282h1v1h-1zM235 324h1v1h-1zM285 231h1v1h-1zM282 239h1v1h-1zM285 234h1v1h-1zM260 284h1v1h-1zM292 228h1v1h-1zM290 232h1v1h-1zM245 310h1v1h-1zM273 256h1v1h-1zM273 261h1v1h-1zM283 244h1v1h-1zM284 243h1v1h-1zM272 265h1v1h-1zM273 271h1v1h-1zM274 267h1v1h-1zM239 309h1v1h-1zM292 229h1v1h-1zM284 233h1v1h-1zM238 323h1v1h-1zM235 317h1v1h-1zM278 245h1v1h-1zM268 266h1v1h-1zM251 292h1v1h-1zM280 252h1v1h-1zM240 325h1v1h-1zM239 320h1v1h-1zM281 237h1v1h-1zM252 301h1v1h-1zM256 300h1v1h-1zM284 232h1v1h-1zM240 310h1v1h-1zM273 256h1v1h-1zM244 317h1v1h-1zM288 241h1v1h-1zM273 269h1v1h-1zM274 268h1v1h-1zM254 290h1v1h-1zM272 263h1v1h-1zM245 309h1v1h-1zM248 297h1v1h-1zM249 304h1v1h-1zM248 312h1v1h-1zM243 309h1v1h-1zM263 282h1v1h-1zM256 291h1v1h-1zM286 245h1v1h-1zM261 291h1v1h-1zM275 257h1v1h-1zM238 315h1v1h-1zM243 316h1v1h-1zM236 331h1v1h-1zM249 309h1v1h-1zM247 298h1v1h-1zM265 274h1v1h-1zM235 317h1v1h-1zM263 282h1v1h-1zM293 221h1v1h-1zM266 272h1v1h-1zM260 281h1v1h-1zM285 248h1v1h-1zM253 285h1v1h-1zM275 257h1v1h-1zM240 320h1v1h-1zM278 242h1v1h-1zM254 303h1v1h-1zM257 283h1v1h-1zM244 311h1v1h-1zM257 292h1v1h-1zM273 264h1v1h-1zM255 287h1v1h-1zM258 297h1v1h-1zM284 247h1v1h-1zM260 285h1v1h-1zM238 316h1v1h-1zM247 305h1v1h-1zM250 305h1v1h-1zM240 312h1v1h-1zM282 240h1v1h-1zM264 285h1v1h-1zM246 299h1v1h-1zM257 282h1v1h-1zM259 276h1v1h-1zM271 254h1v1h-1zM271 261h1v1h-1zM275 260h1v1h-1zM276 249h1v1h-1zM237 328h1v1h-1zM244 320h1v1h-1zM238 324h1v1h-1zM279 248h1v1h-1zM290 239h1v1h-1zM246 308h1v1h-1zM288 245h1v1h-1zM246 316h1v1h-1zM257 286h1v1h-1zM262 276h1v1h-1zM254 300h1v1h-1zM239 321h1v1h-1zM266 278h1v1h-1zM265 274h1v1h-1zM282 254h1v1h-1zM273 257h1v1h-1zM261 274h1v1h-1zM276 245h1v1h-1zM266 266h1v1h-1zM253 292h1v1h-1zM247 300h1v1h-1zM263 280h1v1h-1zM272 270h1v1h-1zM258 285h1v1h-1zM287 241h1v1h-1zM269 273h1v1h-1zM147 828h1v1h-1zM148 823h1v1h-1zM132 809h1v1h-1zM218 817h1v1h-1zM120 816h1v1h-1zM166 823h1v1h-1zM126 812h1v1h-1zM228 823h1v1h-1zM131 815h1v1h-1zM155 821h1v1h-1zM187 825h1v1h-1zM212 818h1v1h-1zM202 823h1v1h-1zM204 817h1v1h-1zM207 822h1v1h-1zM223 810h1v1h-1zM218 808h1v1h-1zM205 820h1v1h-1zM173 827h1v1h-1zM181 816h1v1h-1zM207 825h1v1h-1zM186 815h1v1h-1zM167 817h1v1h-1zM200 814h1v1h-1zM160 819h1v1h-1zM159 814h1v1h-1zM207 825h1v1h-1zM173 817h1v1h-1zM135 814h1v1h-1zM130 819h1v1h-1zM183 810h1v1h-1zM223 814h1v1h-1zM214 825h1v1h-1zM228 812h1v1h-1zM164 826h1v1h-1zM114 809h1v1h-1zM181 818h1v1h-1zM223 823h1v1h-1zM177 828h1v1h-1zM175 818h1v1h-1zM195 816h1v1h-1zM156 820h1v1h-1zM155 827h1v1h-1zM194 818h1v1h-1zM124 815h1v1h-1zM161 819h1v1h-1zM182 825h1v1h-1zM229 818h1v1h-1zM166 820h1v1h-1zM233 815h1v1h-1zM176 824h1v1h-1zM133 814h1v1h-1zM230 824h1v1h-1zM174 810h1v1h-1zM220 822h1v1h-1zM211 828h1v1h-1zM220 816h1v1h-1zM131 814h1v1h-1zM174 818h1v1h-1zM135 812h1v1h-1zM188 820h1v1h-1zM155 828h1v1h-1zM189 809h1v1h-1zM162 824h1v1h-1zM149 822h1v1h-1zM113 814h1v1h-1zM214 820h1v1h-1zM193 812h1v1h-1zM173 819h1v1h-1zM145 821h1v1h-1zM177 828h1v1h-1zM182 816h1v1h-1zM127 811h1v1h-1zM204 810h1v1h-1zM125 811h1v1h-1zM176 824h1v1h-1zM186 824h1v1h-1zM120 808h1v1h-1zM205 814h1v1h-1zM199 815h1v1h-1zM133 813h1v1h-1zM124 826h1v1h-1zM183 815h1v1h-1zM167 816h1v1h-1zM119 826h1v1h-1zM183 827h1v1h-1zM166 820h1v1h-1zM143 809h1v1h-1zM225 825h1v1h-1zM150 826h1v1h-1zM211 814h1v1h-1zM185 827h1v1h-1zM172 827h1v1h-1zM142 816h1v1h-1zM199 812h1v1h-1zM150 825h1v1h-1zM171 824h1v1h-1zM142 811h1v1h-1zM156 812h1v1h-1zM230 814h1v1h-1zM180 810h1v1h-1zM177 816h1v1h-1zM161 809h1v1h-1zM127 824h1v1h-1zM155 813h1v1h-1zM136 814h1v1h-1zM141 809h1v1h-1zM193 815h1v1h-1zM131 822h1v1h-1zM124 813h1v1h-1zM213 810h1v1h-1zM166 825h1v1h-1zM210 811h1v1h-1zM155 822h1v1h-1zM158 827h1v1h-1zM138 827h1v1h-1zM173 812h1v1h-1zM167 811h1v1h-1zM198 813h1v1h-1zM221 820h1v1h-1zM157 813h1v1h-1zM186 812h1v1h-1zM218 810h1v1h-1zM174 819h1v1h-1zM145 823h1v1h-1zM159 821h1v1h-1zM181 814h1v1h-1zM160 810h1v1h-1zM134 825h1v1h-1zM151 821h1v1h-1zM126 819h1v1h-1zM156 818h1v1h-1zM148 809h1v1h-1zM150 812h1v1h-1zM128 822h1v1h-1zM147 816h1v1h-1zM222 823h1v1h-1zM219 825h1v1h-1zM128 813h1v1h-1zM116 821h1v1h-1zM193 815h1v1h-1zM162 821h1v1h-1zM197 813h1v1h-1zM215 815h1v1h-1zM188 812h1v1h-1zM126 826h1v1h-1zM201 822h1v1h-1zM117 809h1v1h-1zM132 812h1v1h-1zM149 815h1v1h-1zM117 814h1v1h-1zM189 811h1v1h-1zM214 819h1v1h-1zM199 813h1v1h-1zM165 822h1v1h-1zM155 808h1v1h-1zM213 823h1v1h-1zM147 809h1v1h-1zM216 820h1v1h-1zM118 813h1v1h-1zM126 824h1v1h-1zM138 826h1v1h-1zM203 810h1v1h-1zM196 816h1v1h-1zM203 824h1v1h-1zM146 810h1v1h-1zM227 816h1v1h-1zM225 822h1v1h-1zM202 824h1v1h-1zM188 817h1v1h-1zM119 822h1v1h-1zM164 818h1v1h-1zM224 810h1v1h-1zM204 809h1v1h-1zM197 824h1v1h-1zM144 819h1v1h-1zM229 821h1v1h-1zM178 813h1v1h-1zM120 815h1v1h-1zM162 812h1v1h-1zM150 811h1v1h-1zM198 821h1v1h-1zM141 813h1v1h-1zM175 817h1v1h-1zM225 815h1v1h-1zM149 826h1v1h-1zM130 819h1v1h-1zM153 824h1v1h-1zM179 823h1v1h-1zM133 821h1v1h-1zM185 817h1v1h-1zM205 824h1v1h-1zM126 814h1v1h-1zM156 812h1v1h-1zM120 813h1v1h-1zM136 822h1v1h-1zM167 810h1v1h-1zM152 817h1v1h-1zM156 811h1v1h-1zM121 808h1v1h-1zM232 823h1v1h-1zM123 822h1v1h-1zM231 819h1v1h-1zM126 818h1v1h-1zM165 812h1v1h-1zM178 808h1v1h-1zM223 821h1v1h-1zM188 827h1v1h-1zM191 813h1v1h-1zM142 811h1v1h-1zM116 823h1v1h-1zM214 814h1v1h-1zM135 821h1v1h-1zM214 826h1v1h-1zM133 824h1v1h-1zM213 823h1v1h-1zM152 812h1v1h-1zM212 814h1v1h-1zM157 819h1v1h-1zM157 824h1v1h-1zM141 809h1v1h-1zM181 820h1v1h-1zM211 822h1v1h-1zM222 827h1v1h-1zM172 818h1v1h-1zM131 814h1v1h-1zM183 809h1v1h-1zM195 811h1v1h-1zM252 785h1v1h-1zM266 755h1v1h-1zM289 723h1v1h-1zM274 740h1v1h-1zM257 775h1v1h-1zM260 769h1v1h-1zM269 752h1v1h-1zM242 810h1v1h-1zM265 772h1v1h-1zM241 806h1v1h-1zM245 796h1v1h-1zM242 803h1v1h-1zM253 788h1v1h-1zM246 805h1v1h-1zM276 751h1v1h-1zM263 775h1v1h-1zM295 706h1v1h-1zM273 746h1v1h-1zM268 753h1v1h-1zM236 812h1v1h-1zM291 729h1v1h-1zM274 753h1v1h-1zM276 744h1v1h-1zM294 709h1v1h-1zM271 744h1v1h-1zM280 734h1v1h-1zM282 741h1v1h-1zM282 732h1v1h-1zM273 745h1v1h-1zM242 794h1v1h-1zM245 811h1v1h-1zM287 736h1v1h-1zM271 759h1v1h-1zM287 725h1v1h-1zM236 817h1v1h-1zM244 795h1v1h-1zM294 706h1v1h-1zM249 802h1v1h-1zM246 788h1v1h-1zM244 795h1v1h-1zM260 772h1v1h-1zM277 743h1v1h-1zM249 781h1v1h-1zM280 750h1v1h-1zM278 751h1v1h-1zM276 742h1v1h-1zM266 762h1v1h-1zM267 768h1v1h-1zM284 732h1v1h-1zM245 805h1v1h-1zM276 748h1v1h-1zM278 736h1v1h-1zM278 739h1v1h-1zM260 784h1v1h-1zM258 775h1v1h-1zM291 726h1v1h-1zM257 786h1v1h-1zM267 764h1v1h-1zM263 760h1v1h-1zM262 764h1v1h-1zM240 805h1v1h-1zM260 775h1v1h-1zM288 720h1v1h-1zM235 826h1v1h-1zM266 755h1v1h-1zM287 734h1v1h-1zM263 763h1v1h-1zM270 748h1v1h-1zM283 727h1v1h-1zM267 753h1v1h-1zM253 791h1v1h-1zM285 720h1v1h-1zM290 728h1v1h-1zM238 807h1v1h-1zM286 721h1v1h-1zM258 783h1v1h-1zM291 714h1v1h-1zM286 731h1v1h-1zM250 795h1v1h-1zM246 801h1v1h-1zM271 760h1v1h-1zM288 717h1v1h-1zM265 769h1v1h-1zM236 821h1v1h-1zM249 796h1v1h-1zM294 707h1v1h-1zM250 794h1v1h-1zM264 765h1v1h-1zM271 757h1v1h-1zM292 716h1v1h-1zM256 777h1v1h-1zM271 759h1v1h-1zM238 806h1v1h-1zM259 765h1v1h-1zM285 722h1v1h-1zM257 785h1v1h-1zM273 749h1v1h-1zM239 807h1v1h-1zM281 739h1v1h-1zM268 755h1v1h-1zM288 722h1v1h-1zM292 727h1v1h-1zM280 737h1v1h-1zM267 768h1v1h-1zM259 774h1v1h-1zM237 806h1v1h-1zM273 745h1v1h-1zM255 773h1v1h-1zM248 802h1v1h-1zM270 752h1v1h-1zM294 711h1v1h-1zM247 795h1v1h-1zM266 757h1v1h-1zM247 791h1v1h-1zM236 811h1v1h-1zM244 800h1v1h-1zM269 766h1v1h-1zM236 816h1v1h-1zM279 750h1v1h-1zM263 776h1v1h-1zM250 784h1v1h-1zM248 786h1v1h-1zM246 804h1v1h-1zM241 801h1v1h-1zM235 809h1v1h-1zM266 759h1v1h-1zM260 779h1v1h-1zM280 736h1v1h-1zM241 806h1v1h-1zM254 781h1v1h-1zM257 770h1v1h-1zM293 722h1v1h-1zM252 799h1v1h-1zM285 730h1v1h-1zM275 737h1v1h-1zM289 722h1v1h-1zM236 809h1v1h-1zM243 801h1v1h-1zM281 730h1v1h-1zM287 729h1v1h-1zM247 785h1v1h-1zM244 803h1v1h-1zM289 725h1v1h-1zM247 796h1v1h-1zM236 821h1v1h-1zM285 727h1v1h-1zM256 786h1v1h-1zM523 324h1v1h-1zM548 333h1v1h-1zM519 329h1v1h-1zM565 326h1v1h-1zM619 331h1v1h-1zM543 322h1v1h-1zM540 336h1v1h-1zM545 320h1v1h-1zM612 328h1v1h-1zM677 318h1v1h-1zM561 320h1v1h-1zM623 326h1v1h-1zM592 334h1v1h-1zM637 334h1v1h-1zM690 322h1v1h-1zM687 325h1v1h-1zM528 335h1v1h-1zM537 317h1v1h-1zM570 322h1v1h-1zM691 334h1v1h-1zM594 327h1v1h-1zM670 333h1v1h-1zM635 327h1v1h-1zM540 322h1v1h-1zM636 328h1v1h-1zM662 335h1v1h-1zM691 321h1v1h-1zM532 334h1v1h-1zM621 320h1v1h-1zM642 322h1v1h-1zM561 324h1v1h-1zM612 330h1v1h-1zM532 331h1v1h-1zM630 326h1v1h-1zM639 333h1v1h-1zM520 326h1v1h-1zM640 331h1v1h-1zM634 320h1v1h-1zM690 332h1v1h-1zM560 325h1v1h-1zM690 321h1v1h-1zM592 336h1v1h-1zM679 321h1v1h-1zM650 324h1v1h-1zM637 332h1v1h-1zM541 321h1v1h-1zM557 322h1v1h-1zM525 319h1v1h-1zM591 325h1v1h-1zM533 328h1v1h-1zM687 328h1v1h-1zM582 331h1v1h-1zM597 320h1v1h-1zM605 317h1v1h-1zM639 320h1v1h-1zM585 336h1v1h-1zM656 333h1v1h-1zM633 329h1v1h-1zM645 336h1v1h-1zM554 332h1v1h-1zM572 322h1v1h-1zM665 329h1v1h-1zM670 334h1v1h-1zM624 321h1v1h-1zM521 327h1v1h-1zM648 322h1v1h-1zM531 317h1v1h-1zM550 331h1v1h-1zM519 321h1v1h-1zM566 331h1v1h-1zM695 317h1v1h-1zM539 335h1v1h-1zM692 320h1v1h-1zM579 327h1v1h-1zM576 325h1v1h-1zM604 322h1v1h-1zM529 318h1v1h-1zM548 319h1v1h-1zM630 331h1v1h-1zM566 332h1v1h-1zM649 324h1v1h-1zM607 321h1v1h-1zM685 328h1v1h-1zM528 320h1v1h-1zM642 324h1v1h-1zM647 321h1v1h-1zM661 333h1v1h-1zM536 328h1v1h-1zM553 331h1v1h-1zM662 332h1v1h-1zM560 319h1v1h-1zM637 328h1v1h-1zM543 321h1v1h-1zM623 319h1v1h-1zM632 322h1v1h-1zM565 325h1v1h-1zM614 331h1v1h-1zM524 331h1v1h-1zM558 323h1v1h-1zM633 330h1v1h-1zM628 335h1v1h-1zM555 323h1v1h-1zM637 322h1v1h-1zM547 321h1v1h-1zM656 333h1v1h-1zM647 336h1v1h-1zM661 323h1v1h-1zM575 331h1v1h-1zM529 329h1v1h-1zM535 318h1v1h-1zM610 320h1v1h-1zM685 334h1v1h-1zM601 321h1v1h-1zM540 327h1v1h-1zM612 324h1v1h-1zM647 327h1v1h-1zM657 319h1v1h-1zM531 324h1v1h-1zM605 322h1v1h-1zM638 321h1v1h-1zM576 326h1v1h-1zM646 332h1v1h-1zM585 326h1v1h-1zM684 335h1v1h-1zM629 319h1v1h-1zM600 329h1v1h-1zM568 318h1v1h-1zM694 335h1v1h-1zM542 326h1v1h-1zM629 323h1v1h-1zM531 332h1v1h-1zM656 325h1v1h-1zM534 325h1v1h-1zM535 336h1v1h-1zM528 322h1v1h-1zM656 319h1v1h-1zM538 318h1v1h-1zM548 327h1v1h-1zM667 320h1v1h-1zM550 332h1v1h-1zM595 323h1v1h-1zM541 322h1v1h-1zM692 319h1v1h-1zM565 331h1v1h-1zM678 335h1v1h-1zM603 336h1v1h-1zM627 322h1v1h-1zM602 331h1v1h-1zM650 319h1v1h-1zM553 336h1v1h-1zM538 333h1v1h-1zM579 322h1v1h-1zM564 326h1v1h-1zM696 320h1v1h-1zM671 323h1v1h-1zM550 331h1v1h-1zM580 320h1v1h-1zM593 333h1v1h-1zM673 328h1v1h-1zM521 332h1v1h-1zM627 335h1v1h-1zM689 323h1v1h-1zM670 333h1v1h-1zM566 324h1v1h-1zM586 324h1v1h-1zM586 319h1v1h-1zM559 335h1v1h-1zM592 329h1v1h-1zM677 332h1v1h-1zM562 335h1v1h-1zM662 336h1v1h-1zM649 332h1v1h-1zM664 322h1v1h-1zM636 324h1v1h-1zM669 319h1v1h-1zM615 323h1v1h-1zM665 324h1v1h-1zM669 334h1v1h-1zM676 320h1v1h-1zM686 331h1v1h-1zM640 330h1v1h-1zM527 334h1v1h-1zM617 326h1v1h-1zM579 332h1v1h-1zM658 334h1v1h-1zM557 324h1v1h-1zM563 319h1v1h-1zM577 317h1v1h-1zM661 321h1v1h-1zM531 318h1v1h-1zM651 321h1v1h-1zM601 325h1v1h-1zM662 336h1v1h-1zM574 329h1v1h-1zM678 326h1v1h-1zM679 331h1v1h-1zM574 334h1v1h-1zM621 319h1v1h-1zM624 333h1v1h-1zM611 326h1v1h-1zM593 334h1v1h-1zM638 321h1v1h-1zM583 324h1v1h-1zM690 331h1v1h-1zM541 335h1v1h-1zM525 328h1v1h-1zM596 331h1v1h-1zM595 319h1v1h-1zM612 333h1v1h-1zM660 324h1v1h-1zM558 331h1v1h-1zM662 321h1v1h-1zM676 336h1v1h-1zM596 324h1v1h-1zM645 335h1v1h-1zM555 323h1v1h-1zM577 331h1v1h-1zM552 328h1v1h-1zM608 330h1v1h-1zM544 336h1v1h-1zM697 328h1v1h-1zM661 320h1v1h-1zM681 328h1v1h-1zM654 334h1v1h-1zM583 335h1v1h-1zM556 317h1v1h-1zM608 335h1v1h-1zM680 336h1v1h-1zM610 335h1v1h-1zM619 320h1v1h-1zM631 333h1v1h-1zM594 329h1v1h-1zM565 322h1v1h-1zM594 327h1v1h-1zM602 319h1v1h-1zM520 324h1v1h-1zM647 332h1v1h-1zM561 322h1v1h-1zM611 320h1v1h-1zM626 335h1v1h-1zM555 328h1v1h-1zM647 332h1v1h-1zM646 331h1v1h-1zM567 333h1v1h-1zM684 318h1v1h-1zM687 326h1v1h-1zM534 318h1v1h-1zM661 330h1v1h-1zM544 326h1v1h-1zM633 336h1v1h-1zM579 332h1v1h-1zM562 321h1v1h-1zM547 325h1v1h-1zM629 323h1v1h-1zM548 321h1v1h-1zM534 321h1v1h-1zM575 327h1v1h-1zM551 326h1v1h-1zM597 336h1v1h-1zM606 335h1v1h-1zM603 321h1v1h-1zM624 320h1v1h-1zM549 318h1v1h-1zM644 336h1v1h-1zM591 324h1v1h-1zM595 324h1v1h-1zM642 325h1v1h-1zM546 334h1v1h-1zM621 317h1v1h-1zM670 331h1v1h-1zM582 329h1v1h-1zM683 325h1v1h-1zM596 323h1v1h-1zM618 330h1v1h-1zM650 336h1v1h-1zM545 324h1v1h-1zM671 332h1v1h-1zM624 330h1v1h-1zM579 335h1v1h-1zM617 325h1v1h-1zM551 319h1v1h-1zM679 333h1v1h-1zM523 323h1v1h-1zM604 327h1v1h-1zM584 334h1v1h-1zM581 327h1v1h-1zM685 329h1v1h-1zM604 323h1v1h-1zM588 329h1v1h-1zM659 322h1v1h-1zM585 324h1v1h-1zM584 335h1v1h-1zM615 322h1v1h-1zM578 333h1v1h-1zM547 330h1v1h-1zM523 321h1v1h-1zM529 333h1v1h-1zM545 321h1v1h-1zM529 322h1v1h-1zM650 331h1v1h-1zM681 335h1v1h-1zM617 335h1v1h-1zM535 335h1v1h-1zM596 321h1v1h-1zM652 334h1v1h-1zM588 319h1v1h-1zM675 332h1v1h-1zM625 336h1v1h-1zM526 318h1v1h-1zM541 317h1v1h-1zM645 329h1v1h-1zM539 320h1v1h-1zM551 329h1v1h-1zM639 336h1v1h-1zM583 336h1v1h-1zM596 325h1v1h-1zM564 321h1v1h-1zM693 336h1v1h-1zM645 320h1v1h-1zM551 320h1v1h-1zM581 331h1v1h-1zM529 327h1v1h-1zM640 317h1v1h-1zM597 332h1v1h-1zM622 326h1v1h-1zM676 329h1v1h-1zM579 325h1v1h-1zM687 334h1v1h-1zM682 328h1v1h-1zM544 320h1v1h-1zM587 330h1v1h-1zM520 333h1v1h-1zM659 327h1v1h-1zM713 311h1v1h-1zM781 175h1v1h-1zM713 294h1v1h-1zM751 236h1v1h-1zM782 176h1v1h-1zM764 206h1v1h-1zM737 261h1v1h-1zM756 227h1v1h-1zM707 310h1v1h-1zM769 205h1v1h-1zM766 201h1v1h-1zM749 232h1v1h-1zM741 247h1v1h-1zM731 267h1v1h-1zM715 307h1v1h-1zM732 277h1v1h-1zM736 256h1v1h-1zM767 203h1v1h-1zM773 203h1v1h-1zM767 200h1v1h-1zM740 249h1v1h-1zM771 212h1v1h-1zM720 299h1v1h-1zM771 201h1v1h-1zM729 280h1v1h-1zM728 274h1v1h-1zM722 293h1v1h-1zM745 247h1v1h-1zM720 300h1v1h-1zM764 208h1v1h-1zM774 192h1v1h-1zM701 317h1v1h-1zM776 196h1v1h-1zM770 210h1v1h-1zM776 186h1v1h-1zM724 292h1v1h-1zM773 204h1v1h-1zM745 249h1v1h-1zM758 232h1v1h-1zM717 288h1v1h-1zM733 262h1v1h-1zM768 212h1v1h-1zM747 238h1v1h-1zM701 324h1v1h-1zM769 214h1v1h-1zM708 308h1v1h-1zM745 238h1v1h-1zM740 262h1v1h-1zM728 266h1v1h-1zM770 214h1v1h-1zM705 325h1v1h-1zM777 196h1v1h-1zM745 235h1v1h-1zM781 180h1v1h-1zM726 287h1v1h-1zM763 209h1v1h-1zM724 274h1v1h-1zM707 302h1v1h-1zM706 312h1v1h-1zM757 231h1v1h-1zM774 203h1v1h-1zM710 310h1v1h-1zM716 285h1v1h-1zM767 216h1v1h-1zM771 204h1v1h-1zM728 267h1v1h-1zM788 166h1v1h-1zM740 258h1v1h-1zM719 285h1v1h-1zM714 308h1v1h-1zM735 257h1v1h-1zM710 302h1v1h-1zM771 201h1v1h-1zM727 281h1v1h-1zM711 312h1v1h-1zM710 298h1v1h-1zM767 214h1v1h-1zM778 189h1v1h-1zM739 260h1v1h-1zM758 215h1v1h-1zM785 185h1v1h-1zM787 165h1v1h-1zM718 293h1v1h-1zM717 301h1v1h-1zM751 239h1v1h-1zM763 222h1v1h-1zM757 230h1v1h-1zM763 214h1v1h-1zM720 284h1v1h-1zM726 288h1v1h-1zM768 216h1v1h-1zM718 299h1v1h-1zM768 199h1v1h-1zM722 278h1v1h-1zM715 289h1v1h-1zM751 239h1v1h-1zM716 286h1v1h-1zM779 196h1v1h-1zM710 310h1v1h-1zM785 179h1v1h-1zM728 281h1v1h-1zM703 325h1v1h-1zM706 312h1v1h-1zM784 175h1v1h-1zM743 247h1v1h-1zM745 251h1v1h-1zM726 289h1v1h-1zM786 181h1v1h-1zM738 259h1v1h-1zM786 176h1v1h-1zM752 225h1v1h-1zM752 235h1v1h-1zM715 287h1v1h-1zM736 270h1v1h-1zM756 221h1v1h-1zM727 269h1v1h-1zM740 253h1v1h-1zM729 280h1v1h-1zM757 223h1v1h-1zM745 244h1v1h-1zM758 217h1v1h-1zM734 258h1v1h-1zM748 232h1v1h-1zM708 315h1v1h-1zM713 307h1v1h-1zM785 167h1v1h-1zM736 259h1v1h-1zM700 318h1v1h-1zM775 187h1v1h-1zM749 239h1v1h-1zM723 290h1v1h-1zM787 180h1v1h-1zM730 266h1v1h-1zM709 309h1v1h-1zM783 179h1v1h-1zM732 263h1v1h-1zM720 285h1v1h-1zM761 222h1v1h-1zM752 236h1v1h-1zM762 218h1v1h-1zM770 193h1v1h-1zM759 226h1v1h-1zM753 235h1v1h-1zM721 282h1v1h-1zM787 172h1v1h-1zM746 235h1v1h-1zM785 175h1v1h-1zM766 200h1v1h-1zM787 171h1v1h-1zM736 260h1v1h-1zM718 288h1v1h-1zM713 313h1v1h-1zM779 182h1v1h-1zM770 193h1v1h-1zM737 256h1v1h-1zM767 199h1v1h-1zM750 238h1v1h-1zM720 298h1v1h-1zM719 285h1v1h-1zM770 207h1v1h-1zM741 254h1v1h-1zM702 329h1v1h-1zM733 274h1v1h-1zM786 181h1v1h-1zM718 301h1v1h-1zM704 314h1v1h-1zM751 242h1v1h-1zM787 173h1v1h-1zM722 291h1v1h-1zM780 185h1v1h-1zM777 201h1v1h-1zM745 255h1v1h-1zM710 300h1v1h-1zM709 300h1v1h-1zM702 311h1v1h-1zM760 220h1v1h-1zM741 252h1v1h-1zM745 244h1v1h-1zM712 313h1v1h-1zM706 313h1v1h-1zM728 277h1v1h-1zM733 258h1v1h-1zM713 311h1v1h-1zM765 208h1v1h-1zM743 257h1v1h-1zM747 248h1v1h-1zM759 221h1v1h-1zM704 309h1v1h-1zM706 319h1v1h-1zM713 294h1v1h-1zM769 212h1v1h-1zM788 171h1v1h-1zM755 238h1v1h-1zM705 325h1v1h-1zM759 225h1v1h-1zM759 233h1v1h-1zM762 212h1v1h-1zM740 259h1v1h-1zM758 221h1v1h-1zM737 268h1v1h-1zM754 237h1v1h-1zM710 314h1v1h-1zM749 235h1v1h-1zM719 284h1v1h-1zM760 230h1v1h-1zM708 309h1v1h-1zM707 316h1v1h-1zM736 265h1v1h-1zM744 256h1v1h-1zM716 292h1v1h-1zM776 193h1v1h-1zM762 224h1v1h-1zM700 330h1v1h-1zM713 310h1v1h-1zM714 308h1v1h-1zM703 329h1v1h-1zM555 809h1v1h-1zM655 811h1v1h-1zM653 808h1v1h-1zM541 815h1v1h-1zM534 817h1v1h-1zM581 823h1v1h-1zM607 827h1v1h-1zM669 811h1v1h-1zM683 826h1v1h-1zM620 818h1v1h-1zM549 814h1v1h-1zM558 812h1v1h-1zM628 814h1v1h-1zM656 819h1v1h-1zM666 810h1v1h-1zM670 818h1v1h-1zM632 813h1v1h-1zM643 816h1v1h-1zM648 820h1v1h-1zM544 814h1v1h-1zM653 808h1v1h-1zM632 819h1v1h-1zM646 815h1v1h-1zM604 817h1v1h-1zM653 809h1v1h-1zM610 813h1v1h-1zM624 813h1v1h-1zM556 813h1v1h-1zM679 815h1v1h-1zM676 823h1v1h-1zM567 819h1v1h-1zM520 827h1v1h-1zM631 810h1v1h-1zM611 818h1v1h-1zM638 814h1v1h-1zM681 820h1v1h-1zM532 824h1v1h-1zM677 814h1v1h-1zM646 825h1v1h-1zM676 809h1v1h-1zM668 813h1v1h-1zM662 822h1v1h-1zM602 826h1v1h-1zM662 828h1v1h-1zM690 819h1v1h-1zM650 821h1v1h-1zM590 818h1v1h-1zM609 812h1v1h-1zM565 825h1v1h-1zM670 822h1v1h-1zM642 818h1v1h-1zM621 821h1v1h-1zM520 817h1v1h-1zM692 812h1v1h-1zM602 810h1v1h-1zM564 824h1v1h-1zM525 824h1v1h-1zM661 825h1v1h-1zM565 827h1v1h-1zM585 817h1v1h-1zM689 819h1v1h-1zM640 810h1v1h-1zM520 813h1v1h-1zM538 824h1v1h-1zM563 827h1v1h-1zM640 812h1v1h-1zM646 814h1v1h-1zM613 810h1v1h-1zM667 824h1v1h-1zM622 822h1v1h-1zM579 811h1v1h-1zM577 823h1v1h-1zM619 811h1v1h-1zM562 817h1v1h-1zM521 809h1v1h-1zM599 811h1v1h-1zM677 811h1v1h-1zM653 824h1v1h-1zM575 819h1v1h-1zM696 820h1v1h-1zM588 827h1v1h-1zM565 827h1v1h-1zM574 816h1v1h-1zM575 821h1v1h-1zM676 822h1v1h-1zM551 828h1v1h-1zM648 818h1v1h-1zM670 810h1v1h-1zM626 824h1v1h-1zM657 821h1v1h-1zM530 818h1v1h-1zM567 820h1v1h-1zM590 817h1v1h-1zM615 820h1v1h-1zM678 814h1v1h-1zM568 812h1v1h-1zM539 825h1v1h-1zM683 811h1v1h-1zM583 826h1v1h-1zM673 827h1v1h-1zM696 814h1v1h-1zM531 813h1v1h-1zM608 808h1v1h-1zM564 817h1v1h-1zM640 811h1v1h-1zM541 815h1v1h-1zM535 810h1v1h-1zM537 824h1v1h-1zM676 809h1v1h-1zM662 825h1v1h-1zM635 814h1v1h-1zM665 810h1v1h-1zM527 827h1v1h-1zM558 826h1v1h-1zM653 809h1v1h-1zM536 821h1v1h-1zM545 821h1v1h-1zM639 813h1v1h-1zM604 812h1v1h-1zM674 821h1v1h-1zM642 820h1v1h-1zM530 826h1v1h-1zM658 818h1v1h-1zM624 818h1v1h-1zM654 819h1v1h-1zM568 818h1v1h-1zM557 808h1v1h-1zM612 825h1v1h-1zM647 812h1v1h-1zM609 820h1v1h-1zM622 817h1v1h-1zM610 822h1v1h-1zM676 818h1v1h-1zM659 822h1v1h-1zM540 813h1v1h-1zM575 815h1v1h-1zM606 814h1v1h-1zM697 823h1v1h-1zM585 822h1v1h-1zM684 811h1v1h-1zM631 827h1v1h-1zM586 825h1v1h-1zM662 814h1v1h-1zM544 824h1v1h-1zM593 815h1v1h-1zM602 822h1v1h-1zM678 826h1v1h-1zM656 811h1v1h-1zM585 808h1v1h-1zM555 815h1v1h-1zM550 817h1v1h-1zM542 821h1v1h-1zM592 813h1v1h-1zM641 815h1v1h-1zM523 825h1v1h-1zM653 825h1v1h-1zM571 813h1v1h-1zM643 811h1v1h-1zM691 821h1v1h-1zM617 809h1v1h-1zM569 816h1v1h-1zM694 811h1v1h-1zM624 810h1v1h-1zM692 823h1v1h-1zM664 823h1v1h-1zM551 813h1v1h-1zM526 819h1v1h-1zM533 812h1v1h-1zM550 826h1v1h-1zM660 814h1v1h-1zM692 811h1v1h-1zM544 816h1v1h-1zM663 810h1v1h-1zM660 819h1v1h-1zM661 815h1v1h-1zM526 810h1v1h-1zM648 818h1v1h-1zM655 812h1v1h-1zM569 812h1v1h-1zM671 822h1v1h-1zM546 822h1v1h-1zM526 817h1v1h-1zM565 823h1v1h-1zM647 822h1v1h-1zM554 809h1v1h-1zM633 822h1v1h-1zM520 825h1v1h-1zM679 815h1v1h-1zM611 821h1v1h-1zM684 821h1v1h-1zM611 823h1v1h-1zM606 809h1v1h-1zM616 816h1v1h-1zM579 816h1v1h-1zM558 814h1v1h-1zM652 826h1v1h-1zM600 825h1v1h-1zM541 818h1v1h-1zM652 824h1v1h-1zM588 811h1v1h-1zM690 820h1v1h-1zM635 815h1v1h-1zM539 819h1v1h-1zM591 826h1v1h-1zM637 823h1v1h-1zM620 823h1v1h-1zM543 828h1v1h-1zM622 820h1v1h-1zM553 810h1v1h-1zM645 822h1v1h-1zM638 813h1v1h-1zM606 823h1v1h-1zM633 826h1v1h-1zM535 823h1v1h-1zM521 820h1v1h-1zM614 809h1v1h-1zM594 821h1v1h-1zM674 810h1v1h-1zM610 824h1v1h-1zM540 826h1v1h-1zM686 815h1v1h-1zM556 811h1v1h-1zM558 816h1v1h-1zM645 827h1v1h-1zM618 827h1v1h-1zM595 821h1v1h-1zM519 816h1v1h-1zM523 811h1v1h-1zM663 810h1v1h-1zM572 818h1v1h-1zM613 809h1v1h-1zM538 821h1v1h-1zM591 810h1v1h-1zM604 815h1v1h-1zM697 809h1v1h-1zM551 809h1v1h-1zM617 827h1v1h-1zM658 810h1v1h-1zM615 815h1v1h-1zM693 822h1v1h-1zM627 813h1v1h-1zM597 818h1v1h-1zM586 819h1v1h-1zM535 816h1v1h-1zM695 816h1v1h-1zM609 823h1v1h-1zM664 823h1v1h-1zM587 822h1v1h-1zM554 820h1v1h-1zM522 812h1v1h-1zM550 815h1v1h-1zM651 808h1v1h-1zM675 810h1v1h-1zM688 827h1v1h-1zM628 825h1v1h-1zM687 817h1v1h-1zM672 809h1v1h-1zM658 821h1v1h-1zM657 811h1v1h-1zM534 818h1v1h-1zM627 822h1v1h-1zM551 819h1v1h-1zM692 813h1v1h-1zM665 827h1v1h-1zM639 817h1v1h-1zM593 817h1v1h-1zM541 809h1v1h-1zM569 811h1v1h-1zM679 815h1v1h-1zM675 819h1v1h-1zM679 826h1v1h-1zM646 817h1v1h-1zM562 819h1v1h-1zM574 824h1v1h-1zM526 821h1v1h-1zM579 816h1v1h-1zM616 828h1v1h-1zM696 815h1v1h-1zM690 827h1v1h-1zM613 819h1v1h-1zM554 824h1v1h-1zM605 823h1v1h-1zM683 820h1v1h-1zM643 819h1v1h-1zM542 817h1v1h-1zM530 812h1v1h-1zM694 816h1v1h-1zM543 817h1v1h-1zM529 820h1v1h-1zM559 812h1v1h-1zM632 826h1v1h-1zM521 822h1v1h-1zM623 818h1v1h-1zM594 808h1v1h-1zM582 818h1v1h-1zM579 828h1v1h-1zM579 825h1v1h-1zM663 824h1v1h-1zM607 818h1v1h-1zM669 810h1v1h-1zM559 808h1v1h-1zM606 817h1v1h-1zM689 827h1v1h-1zM591 818h1v1h-1zM537 823h1v1h-1zM611 811h1v1h-1zM675 809h1v1h-1zM553 817h1v1h-1zM697 811h1v1h-1zM566 824h1v1h-1zM579 826h1v1h-1zM522 813h1v1h-1zM574 825h1v1h-1zM537 821h1v1h-1zM677 827h1v1h-1zM663 809h1v1h-1zM605 812h1v1h-1zM540 813h1v1h-1zM650 819h1v1h-1zM542 814h1v1h-1zM530 826h1v1h-1zM653 817h1v1h-1zM690 827h1v1h-1zM556 813h1v1h-1zM553 821h1v1h-1zM625 818h1v1h-1zM657 819h1v1h-1zM575 821h1v1h-1zM688 809h1v1h-1zM606 811h1v1h-1zM652 817h1v1h-1zM669 821h1v1h-1zM690 820h1v1h-1zM625 827h1v1h-1zM662 815h1v1h-1zM537 826h1v1h-1zM705 814h1v1h-1zM726 777h1v1h-1zM763 708h1v1h-1zM703 821h1v1h-1zM710 797h1v1h-1zM730 759h1v1h-1zM734 767h1v1h-1zM734 753h1v1h-1zM751 733h1v1h-1zM729 766h1v1h-1zM775 692h1v1h-1zM740 740h1v1h-1zM787 675h1v1h-1zM754 716h1v1h-1zM727 779h1v1h-1zM742 751h1v1h-1zM742 737h1v1h-1zM738 758h1v1h-1zM744 743h1v1h-1zM780 683h1v1h-1zM765 705h1v1h-1zM760 717h1v1h-1zM731 753h1v1h-1zM700 822h1v1h-1zM754 724h1v1h-1zM755 724h1v1h-1zM711 801h1v1h-1zM783 682h1v1h-1zM756 714h1v1h-1zM705 815h1v1h-1zM747 732h1v1h-1zM714 781h1v1h-1zM779 678h1v1h-1zM738 742h1v1h-1zM709 801h1v1h-1zM756 713h1v1h-1zM739 746h1v1h-1zM717 785h1v1h-1zM782 671h1v1h-1zM742 742h1v1h-1zM709 800h1v1h-1zM707 798h1v1h-1zM781 683h1v1h-1zM730 760h1v1h-1zM788 656h1v1h-1zM713 787h1v1h-1zM721 773h1v1h-1zM771 699h1v1h-1zM740 755h1v1h-1zM754 722h1v1h-1zM714 801h1v1h-1zM767 701h1v1h-1zM752 724h1v1h-1zM737 758h1v1h-1zM766 697h1v1h-1zM762 702h1v1h-1zM734 750h1v1h-1zM780 669h1v1h-1zM736 762h1v1h-1zM728 773h1v1h-1zM729 774h1v1h-1zM723 779h1v1h-1zM771 697h1v1h-1zM719 784h1v1h-1zM735 746h1v1h-1zM704 805h1v1h-1zM786 671h1v1h-1zM780 670h1v1h-1zM734 764h1v1h-1zM738 740h1v1h-1zM703 808h1v1h-1zM731 759h1v1h-1zM787 668h1v1h-1zM724 783h1v1h-1zM753 727h1v1h-1zM777 684h1v1h-1zM778 678h1v1h-1zM717 779h1v1h-1zM745 732h1v1h-1zM769 696h1v1h-1zM720 780h1v1h-1zM782 680h1v1h-1zM729 763h1v1h-1zM746 736h1v1h-1zM703 805h1v1h-1zM751 726h1v1h-1zM768 697h1v1h-1zM763 702h1v1h-1zM756 723h1v1h-1zM732 756h1v1h-1zM718 781h1v1h-1zM754 719h1v1h-1zM720 781h1v1h-1zM753 725h1v1h-1zM712 788h1v1h-1zM716 793h1v1h-1zM732 751h1v1h-1zM714 786h1v1h-1zM777 679h1v1h-1zM702 815h1v1h-1zM781 677h1v1h-1zM715 790h1v1h-1zM731 755h1v1h-1zM710 806h1v1h-1zM737 747h1v1h-1zM768 693h1v1h-1zM761 716h1v1h-1zM784 668h1v1h-1zM710 798h1v1h-1zM760 702h1v1h-1zM739 748h1v1h-1zM729 766h1v1h-1zM759 720h1v1h-1zM763 714h1v1h-1zM748 722h1v1h-1zM746 742h1v1h-1zM736 753h1v1h-1zM787 673h1v1h-1zM779 669h1v1h-1zM751 722h1v1h-1zM729 762h1v1h-1zM724 776h1v1h-1zM702 814h1v1h-1zM705 804h1v1h-1zM759 705h1v1h-1zM731 768h1v1h-1zM721 782h1v1h-1zM703 818h1v1h-1zM764 712h1v1h-1zM716 793h1v1h-1zM721 771h1v1h-1zM730 766h1v1h-1zM771 690h1v1h-1zM761 707h1v1h-1zM730 769h1v1h-1zM759 710h1v1h-1zM709 794h1v1h-1zM769 692h1v1h-1zM732 764h1v1h-1zM775 685h1v1h-1zM699 814h1v1h-1zM786 662h1v1h-1zM766 709h1v1h-1zM703 816h1v1h-1zM738 755h1v1h-1zM712 802h1v1h-1zM706 810h1v1h-1zM745 743h1v1h-1zM780 675h1v1h-1zM712 800h1v1h-1zM705 805h1v1h-1zM779 678h1v1h-1zM739 754h1v1h-1zM764 709h1v1h-1zM723 777h1v1h-1zM766 696h1v1h-1zM726 769h1v1h-1zM715 787h1v1h-1zM786 674h1v1h-1zM715 784h1v1h-1zM769 706h1v1h-1zM702 810h1v1h-1zM729 762h1v1h-1zM722 779h1v1h-1zM718 787h1v1h-1zM771 693h1v1h-1zM731 758h1v1h-1zM758 722h1v1h-1zM773 699h1v1h-1zM701 803h1v1h-1zM748 743h1v1h-1zM709 789h1v1h-1zM704 801h1v1h-1zM768 688h1v1h-1zM757 724h1v1h-1zM776 679h1v1h-1zM706 798h1v1h-1zM712 791h1v1h-1zM758 704h1v1h-1zM761 717h1v1h-1zM774 696h1v1h-1zM781 679h1v1h-1zM725 772h1v1h-1zM773 679h1v1h-1zM742 747h1v1h-1zM707 800h1v1h-1zM741 750h1v1h-1zM712 791h1v1h-1zM751 724h1v1h-1zM752 723h1v1h-1zM747 739h1v1h-1zM784 676h1v1h-1zM744 735h1v1h-1zM775 695h1v1h-1zM788 670h1v1h-1zM718 790h1v1h-1zM754 714h1v1h-1zM735 745h1v1h-1zM723 776h1v1h-1zM730 766h1v1h-1zM743 745h1v1h-1zM727 770h1v1h-1zM707 810h1v1h-1zM778 689h1v1h-1zM773 689h1v1h-1zM775 694h1v1h-1zM737 752h1v1h-1zM732 750h1v1h-1zM753 720h1v1h-1zM730 767h1v1h-1zM758 722h1v1h-1zM757 714h1v1h-1zM708 805h1v1h-1zM707 805h1v1h-1zM716 783h1v1h-1z"/>
<text x="201" y="78.5" font-size="25" font-weight="bold" textLength="7.8" lengthAdjust="spacingAndGlyphs">c</text>
<text x="208.2" y="82.8" font-size="15.5" font-weight="bold" textLength="5.7" lengthAdjust="spacingAndGlyphs">2</text>
<text transform="translate(100.5 140.8) rotate(-60)" x="0" y="4.6" text-anchor="middle" font-size="20" font-weight="bold" textLength="14" lengthAdjust="spacingAndGlyphs">c<tspan font-size="14" dy="3.5">1</tspan></text>
<text x="295.9" y="185.7" font-size="33" font-weight="bold" textLength="8.1" lengthAdjust="spacingAndGlyphs">τ</text>
<text x="304" y="195.8" font-size="21" font-weight="bold" textLength="26" lengthAdjust="spacingAndGlyphs">pd,2</text>
<text x="37.1" y="229" font-size="31" font-weight="bold" textLength="8.2" lengthAdjust="spacingAndGlyphs">γ</text>
<text x="45" y="230.6" font-size="24" font-weight="bold" textLength="7.5" lengthAdjust="spacingAndGlyphs">v</text>
<text x="53.1" y="228.8" font-size="30.5" font-weight="bold" textLength="19.1" lengthAdjust="spacingAndGlyphs">M</text>
<text x="71.7" y="230.6" font-size="22" font-weight="bold" textLength="7.3" lengthAdjust="spacingAndGlyphs">u</text>
<text x="19.9" y="256.5" font-size="24" font-weight="bold" textLength="62.5" lengthAdjust="spacingAndGlyphs">x-x ekseni</text>
<text x="71" y="281.9" font-size="33" font-weight="bold" textLength="10.1" lengthAdjust="spacingAndGlyphs">τ</text>
<text x="80.1" y="290.9" font-size="21" font-weight="bold" textLength="25.1" lengthAdjust="spacingAndGlyphs">pd,1</text>
<text transform="translate(92 327.8) rotate(-90)" x="0" y="5.5" text-anchor="middle" font-size="24" font-weight="bold" textLength="9.8" lengthAdjust="spacingAndGlyphs">d</text>
<text x="107" y="416" font-size="20" font-weight="bold" textLength="66.2" lengthAdjust="spacingAndGlyphs">b<tspan font-size="14" dy="6">2</tspan><tspan dy="-6">= c</tspan><tspan font-size="14" dy="6">2</tspan><tspan dy="-6">+ d/2</tspan></text>
<text x="57" y="455.5" font-size="24" font-weight="normal" textLength="149" lengthAdjust="spacingAndGlyphs">Corner Column</text>
<text transform="translate(351.2 224.1) rotate(-60)" x="0" y="5" text-anchor="middle" font-size="21" font-weight="bold" textLength="9" lengthAdjust="spacingAndGlyphs">c'</text>
<text transform="translate(327.3 277.8) rotate(-60)" x="0" y="4" text-anchor="middle" font-size="21" font-weight="bold" textLength="7.5" lengthAdjust="spacingAndGlyphs">c</text>
<text transform="translate(372.9 262.4) rotate(-60)" x="0" y="6" text-anchor="middle" font-size="20" font-weight="bold" textLength="68" lengthAdjust="spacingAndGlyphs">b<tspan font-size="14" dy="4">1</tspan><tspan dy="-4"> = c</tspan><tspan font-size="14" dy="4">1</tspan><tspan dy="-4"> + d/2</tspan></text>
<text x="201.9" y="569.4" font-size="25" font-weight="bold" textLength="7.7" lengthAdjust="spacingAndGlyphs">c</text>
<text x="209" y="573.8" font-size="15.5" font-weight="bold" textLength="5" lengthAdjust="spacingAndGlyphs">1</text>
<text transform="translate(100.6 631.7) rotate(-60)" x="0" y="4.6" text-anchor="middle" font-size="20" font-weight="bold" textLength="14" lengthAdjust="spacingAndGlyphs">c<tspan font-size="14" dy="3.5">2</tspan></text>
<text transform="translate(259.5 613.8) rotate(-60)" x="0" y="6.5" text-anchor="middle" font-size="26" font-weight="bold" textLength="43" lengthAdjust="spacingAndGlyphs">γ<tspan font-size="19" dy="2">v</tspan><tspan font-size="31" dy="-2">M</tspan><tspan font-size="19" dy="2">u</tspan></text>
<text transform="translate(279.9 630.5) rotate(-60)" x="0" y="5" text-anchor="middle" font-size="21" font-weight="bold" textLength="56" lengthAdjust="spacingAndGlyphs">y-y ekseni</text>
<text x="291.9" y="650.7" font-size="33" font-weight="bold" textLength="9.2" lengthAdjust="spacingAndGlyphs">τ</text>
<text x="301.1" y="659.6" font-size="21" font-weight="bold" textLength="23.8" lengthAdjust="spacingAndGlyphs">pd,1</text>
<text x="222.2" y="745.6" font-size="33" font-weight="bold" textLength="8.9" lengthAdjust="spacingAndGlyphs">τ</text>
<text x="230" y="754.8" font-size="21" font-weight="bold" textLength="24.9" lengthAdjust="spacingAndGlyphs">pd,1</text>
<text x="83.9" y="767.9" font-size="33" font-weight="bold" textLength="9.2" lengthAdjust="spacingAndGlyphs">τ</text>
<text x="93.1" y="777.6" font-size="21" font-weight="bold" textLength="25.7" lengthAdjust="spacingAndGlyphs">pd,2</text>
<text transform="translate(91.6 818.4) rotate(-90)" x="0" y="5.5" text-anchor="middle" font-size="24" font-weight="bold" textLength="9.8" lengthAdjust="spacingAndGlyphs">d</text>
<text x="105.3" y="877.8" font-size="20" font-weight="bold" textLength="9" lengthAdjust="spacingAndGlyphs">c'</text>
<text x="165.7" y="879" font-size="20" font-weight="bold" textLength="6.7" lengthAdjust="spacingAndGlyphs">c</text>
<text x="109.8" y="908" font-size="20" font-weight="bold" textLength="62.6" lengthAdjust="spacingAndGlyphs">b<tspan font-size="14" dy="6">1</tspan><tspan dy="-6">= c</tspan><tspan font-size="14" dy="6">1</tspan><tspan dy="-6">+ d/2</tspan></text>
<text x="65" y="938" font-size="24" font-weight="normal" textLength="149.5" lengthAdjust="spacingAndGlyphs">Corner Column</text>
<text transform="translate(331.7 753.3) rotate(-60)" x="0" y="6" text-anchor="middle" font-size="20" font-weight="bold" textLength="68" lengthAdjust="spacingAndGlyphs">b<tspan font-size="14" dy="4">2</tspan><tspan dy="-4"> = c</tspan><tspan font-size="14" dy="4">2</tspan><tspan dy="-4"> + d/2</tspan></text>
<text x="666" y="14.6" font-size="25" font-weight="bold" textLength="6.8" lengthAdjust="spacingAndGlyphs">c</text>
<text x="672" y="19.8" font-size="15.5" font-weight="bold" textLength="6.1" lengthAdjust="spacingAndGlyphs">2</text>
<text transform="translate(562.5 64.8) rotate(-60)" x="0" y="4.6" text-anchor="middle" font-size="20" font-weight="bold" textLength="14" lengthAdjust="spacingAndGlyphs">c<tspan font-size="14" dy="3.5">1</tspan></text>
<text x="568" y="124.6" font-size="33" font-weight="bold" textLength="9.1" lengthAdjust="spacingAndGlyphs">τ</text>
<text x="577.1" y="134.7" font-size="21" font-weight="bold" textLength="25.7" lengthAdjust="spacingAndGlyphs">pd,2</text>
<text x="440.1" y="222.5" font-size="28" font-weight="bold" textLength="8.2" lengthAdjust="spacingAndGlyphs">γ</text>
<text x="450" y="224.8" font-size="24" font-weight="bold" textLength="7.4" lengthAdjust="spacingAndGlyphs">v</text>
<text x="457.4" y="223" font-size="30.5" font-weight="bold" textLength="19.1" lengthAdjust="spacingAndGlyphs">M</text>
<text x="476" y="224.8" font-size="22" font-weight="bold" textLength="7.7" lengthAdjust="spacingAndGlyphs">u</text>
<text x="425" y="256.5" font-size="24" font-weight="bold" textLength="61.5" lengthAdjust="spacingAndGlyphs">x-x ekseni</text>
<text x="479" y="280.7" font-size="33" font-weight="bold" textLength="8.7" lengthAdjust="spacingAndGlyphs">τ</text>
<text x="487.1" y="290.5" font-size="21" font-weight="bold" textLength="25.8" lengthAdjust="spacingAndGlyphs">pd,1</text>
<text transform="translate(498.8 328.4) rotate(-90)" x="0" y="5.5" text-anchor="middle" font-size="24" font-weight="bold" textLength="9.8" lengthAdjust="spacingAndGlyphs">d</text>
<text x="519.8" y="416" font-size="21" font-weight="bold" textLength="55.9" lengthAdjust="spacingAndGlyphs">b<tspan font-size="14" dy="6">2</tspan><tspan dy="-6">= c</tspan><tspan font-size="14" dy="6">2</tspan><tspan dy="-6">+ d</tspan></text>
<text x="517.6" y="455.3" font-size="24" font-weight="normal" textLength="133" lengthAdjust="spacingAndGlyphs">Inner Column</text>
<text transform="translate(836.5 199) rotate(-60)" x="0" y="5" text-anchor="middle" font-size="21" font-weight="bold" textLength="9" lengthAdjust="spacingAndGlyphs">c'</text>
<text transform="translate(793 279) rotate(-60)" x="0" y="4" text-anchor="middle" font-size="21" font-weight="bold" textLength="7.5" lengthAdjust="spacingAndGlyphs">c</text>
<text transform="translate(853.3 234) rotate(-60)" x="0" y="6" text-anchor="middle" font-size="20" font-weight="bold" textLength="59" lengthAdjust="spacingAndGlyphs">b<tspan font-size="14" dy="4">1</tspan><tspan dy="-4"> = c</tspan><tspan font-size="14" dy="4">1</tspan><tspan dy="-4"> + d</tspan></text>
<text x="666.9" y="491.1" font-size="25" font-weight="bold" textLength="7.1" lengthAdjust="spacingAndGlyphs">c</text>
<text x="673" y="496.7" font-size="15.5" font-weight="bold" textLength="5.1" lengthAdjust="spacingAndGlyphs">1</text>
<text transform="translate(562 556.8) rotate(-60)" x="0" y="4.6" text-anchor="middle" font-size="20" font-weight="bold" textLength="14" lengthAdjust="spacingAndGlyphs">c<tspan font-size="14" dy="3.5">2</tspan></text>
<text x="567.9" y="616.7" font-size="33" font-weight="bold" textLength="9.2" lengthAdjust="spacingAndGlyphs">τ</text>
<text x="577.1" y="626.2" font-size="21" font-weight="bold" textLength="25.7" lengthAdjust="spacingAndGlyphs">pd,2</text>
<text transform="translate(734.2 559) rotate(-60)" x="0" y="6.5" text-anchor="middle" font-size="26" font-weight="bold" textLength="43" lengthAdjust="spacingAndGlyphs">γ<tspan font-size="19" dy="2">v</tspan><tspan font-size="31" dy="-2">M</tspan><tspan font-size="19" dy="2">u</tspan></text>
<text transform="translate(755.8 577.5) rotate(-60)" x="0" y="5" text-anchor="middle" font-size="21" font-weight="bold" textLength="56" lengthAdjust="spacingAndGlyphs">y-y ekseni</text>
<text x="797.9" y="608.7" font-size="33" font-weight="bold" textLength="9.2" lengthAdjust="spacingAndGlyphs">τ</text>
<text x="806" y="618.5" font-size="21" font-weight="bold" textLength="25.1" lengthAdjust="spacingAndGlyphs">pd,1</text>
<text x="677" y="744.6" font-size="33" font-weight="bold" textLength="9.2" lengthAdjust="spacingAndGlyphs">τ</text>
<text x="686.2" y="754.4" font-size="21" font-weight="bold" textLength="24.6" lengthAdjust="spacingAndGlyphs">pd,1</text>
<text x="471.7" y="784.6" font-size="33" font-weight="bold" textLength="9.4" lengthAdjust="spacingAndGlyphs">τ</text>
<text x="481.5" y="793.3" font-size="21" font-weight="bold" textLength="25.1" lengthAdjust="spacingAndGlyphs">pd,2</text>
<text transform="translate(499.8 818.5) rotate(-90)" x="0" y="5.5" text-anchor="middle" font-size="24" font-weight="bold" textLength="9.8" lengthAdjust="spacingAndGlyphs">d</text>
<text x="522.5" y="880.3" font-size="20" font-weight="bold" textLength="8.8" lengthAdjust="spacingAndGlyphs">c'</text>
<text x="615.6" y="880.3" font-size="20" font-weight="bold" textLength="5.8" lengthAdjust="spacingAndGlyphs">c</text>
<text x="535.6" y="913.8" font-size="21" font-weight="bold" textLength="51.8" lengthAdjust="spacingAndGlyphs">b<tspan font-size="14" dy="6">1</tspan><tspan dy="-6">= c</tspan><tspan font-size="14" dy="6">1</tspan><tspan dy="-6">+ d</tspan></text>
<text x="591" y="943.2" font-size="24" font-weight="normal" textLength="133.5" lengthAdjust="spacingAndGlyphs">Inner Column</text>
<text transform="translate(822.9 727) rotate(-60)" x="0" y="6" text-anchor="middle" font-size="20" font-weight="bold" textLength="59" lengthAdjust="spacingAndGlyphs">b<tspan font-size="14" dy="4">2</tspan><tspan dy="-4"> = c</tspan><tspan font-size="14" dy="4">2</tspan><tspan dy="-4"> + d</tspan></text>
</svg>
</body></html>
